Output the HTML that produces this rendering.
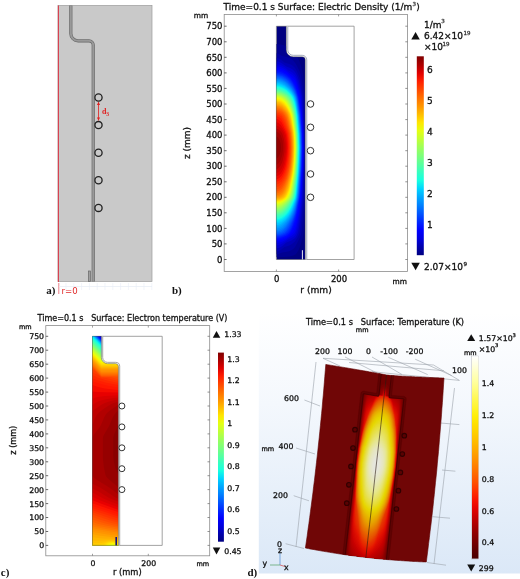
<!DOCTYPE html>
<html><head><meta charset="utf-8"><title>figure</title>
<style>html,body{margin:0;padding:0;background:#fff}svg{display:block}</style></head>
<body><svg width="520" height="579" viewBox="0 0 520 579">
<defs>
<linearGradient id="gjet" x1="0" y1="0" x2="0" y2="1"><stop offset="0%" stop-color="#800000"/><stop offset="4.2%" stop-color="#ad0000"/><stop offset="8.3%" stop-color="#df0000"/><stop offset="12.5%" stop-color="#ff1e00"/><stop offset="16.7%" stop-color="#ff4700"/><stop offset="20.8%" stop-color="#ff6f00"/><stop offset="25%" stop-color="#ff9400"/><stop offset="29.2%" stop-color="#ffbd00"/><stop offset="33.3%" stop-color="#ffe600"/><stop offset="37.5%" stop-color="#e4ff13"/><stop offset="41.7%" stop-color="#c1ff36"/><stop offset="45.8%" stop-color="#9dff5a"/><stop offset="50%" stop-color="#7dff7a"/><stop offset="54.2%" stop-color="#5aff9d"/><stop offset="58.3%" stop-color="#36ffc1"/><stop offset="62.5%" stop-color="#16ffe1"/><stop offset="66.7%" stop-color="#00d4ff"/><stop offset="70.8%" stop-color="#00a8ff"/><stop offset="75%" stop-color="#0080ff"/><stop offset="79.2%" stop-color="#0054ff"/><stop offset="83.3%" stop-color="#0028ff"/><stop offset="87.5%" stop-color="#0000ff"/><stop offset="91.7%" stop-color="#0000df"/><stop offset="95.8%" stop-color="#0000ad"/><stop offset="100%" stop-color="#000080"/></linearGradient>
<linearGradient id="ghot" x1="0" y1="0" x2="0" y2="1"><stop offset="0%" stop-color="#ffffff"/><stop offset="4.2%" stop-color="#ffffe0"/><stop offset="8.3%" stop-color="#ffffbe"/><stop offset="12.5%" stop-color="#ffff9f"/><stop offset="16.7%" stop-color="#fffc7a"/><stop offset="20.8%" stop-color="#fff853"/><stop offset="25%" stop-color="#fff430"/><stop offset="29.2%" stop-color="#ffef09"/><stop offset="33.3%" stop-color="#ffe000"/><stop offset="37.5%" stop-color="#ffd000"/><stop offset="41.7%" stop-color="#ffbe00"/><stop offset="45.8%" stop-color="#ffab00"/><stop offset="50%" stop-color="#ff9600"/><stop offset="54.2%" stop-color="#ff7f00"/><stop offset="58.3%" stop-color="#ff6800"/><stop offset="62.5%" stop-color="#ff4f00"/><stop offset="66.7%" stop-color="#ff3000"/><stop offset="70.8%" stop-color="#fa1400"/><stop offset="75%" stop-color="#e60400"/><stop offset="79.2%" stop-color="#c90000"/><stop offset="83.3%" stop-color="#ab0000"/><stop offset="87.5%" stop-color="#8f0000"/><stop offset="91.7%" stop-color="#770000"/><stop offset="95.8%" stop-color="#5f0000"/><stop offset="100%" stop-color="#4a0000"/></linearGradient>
<clipPath id="cb"><path d="M276.40,259.50L305.32,259.50L305.32,59.84A3.11,3.11 0 0 0 302.21,56.73L293.19,56.73A6.84,6.84 0 0 1 286.35,49.89L286.35,26.25L276.40,26.25Z"/></clipPath>
<clipPath id="cc"><path d="M92.50,545.40L118.43,545.40L118.43,366.41A2.79,2.79 0 0 0 115.64,363.62L107.56,363.62A6.13,6.13 0 0 1 101.42,357.49L101.42,336.30L92.50,336.30Z"/></clipPath>
<linearGradient id="gbg" x1="0" y1="0" x2="0" y2="1"><stop offset="0" stop-color="#ffffff"/><stop offset="0.35" stop-color="#f4f8fd"/><stop offset="1" stop-color="#dbe8f7"/></linearGradient>
<clipPath id="cd"><path d="M345.3,554.7L363.3,394.2L363.3,394L363.4,393.9L363.5,393.8L363.7,393.8L363.8,393.8L378.1,396.3L378.3,396.3L378.4,396.2L378.6,396.2L378.7,396.1L378.8,396L378.9,395.8L378.9,395.7L381.3,374L391.4,375.4L389,397.1L389,397.2L389,397.4L389.1,397.5L389.2,397.7L389.3,397.8L389.4,397.8L389.6,397.9L403.4,398.8L403.5,398.8L403.6,398.9L403.7,399L403.8,399.2L403.8,399.3L386.4,559.5Z"/></clipPath>
</defs>
<rect width="520" height="579" fill="#fff"/>
<rect x="58" y="5.5" width="94" height="276" fill="#c9c9c9" stroke="#9a9a9a" stroke-width="0.7"/>
<path d="M93.26,281.50L93.26,45.24A4.42,4.42 0 0 0 88.84,40.83L78.17,40.83A7.36,7.36 0 0 1 70.81,33.47L70.81,5.50" fill="none" stroke="#666" stroke-width="3.2" stroke-linejoin="round"/>
<path d="M93.26,281.50L93.26,45.24A4.42,4.42 0 0 0 88.84,40.83L78.17,40.83A7.36,7.36 0 0 1 70.81,33.47L70.81,5.50" fill="none" stroke="#999" stroke-width="2" stroke-linejoin="round"/>
<rect x="88.4" y="271" width="2" height="10.5" fill="#a0a0a0" stroke="#666" stroke-width="0.7"/>
<circle cx="98.5" cy="97.5" r="3.6" fill="#c9c9c9" stroke="#222" stroke-width="1.3"/>
<circle cx="98.5" cy="125.1" r="3.6" fill="#c9c9c9" stroke="#222" stroke-width="1.3"/>
<circle cx="98.5" cy="152.7" r="3.6" fill="#c9c9c9" stroke="#222" stroke-width="1.3"/>
<circle cx="98.5" cy="180.3" r="3.6" fill="#c9c9c9" stroke="#222" stroke-width="1.3"/>
<circle cx="98.5" cy="207.9" r="3.6" fill="#c9c9c9" stroke="#222" stroke-width="1.3"/>
<line x1="58.4" y1="5.5" x2="58.4" y2="282" stroke="#dc3545" stroke-width="1"/>
<line x1="58.8" y1="283" x2="58.8" y2="294" stroke="#e8707a" stroke-width="0.9"/>
<line x1="98.5" y1="102.1" x2="98.5" y2="120.5" stroke="#e02020" stroke-width="0.8"/>
<path d="M98.5,102.1 l-1.6,3 h3.2z M98.5,120.5 l-1.6,-3 h3.2z" fill="#e02020"/>
<text x="102" y="113.5" font-size="8" text-anchor="start" fill="#e02020" font-family='"Liberation Serif","DejaVu Serif",serif' font-weight="bold">d</text>
<text x="106.3" y="115.5" font-size="5.5" text-anchor="start" fill="#e02020" font-family='"Liberation Serif","DejaVu Serif",serif' font-weight="bold">3</text>
<line x1="66" y1="283" x2="66" y2="290" stroke="#e8edf6" stroke-width="0.6"/>
<line x1="73.8" y1="283" x2="73.8" y2="290" stroke="#e8edf6" stroke-width="0.6"/>
<line x1="81.6" y1="283" x2="81.6" y2="290" stroke="#e8edf6" stroke-width="0.6"/>
<line x1="89.4" y1="283" x2="89.4" y2="290" stroke="#e8edf6" stroke-width="0.6"/>
<line x1="97.2" y1="283" x2="97.2" y2="290" stroke="#e8edf6" stroke-width="0.6"/>
<line x1="105" y1="283" x2="105" y2="290" stroke="#e8edf6" stroke-width="0.6"/>
<line x1="112.8" y1="283" x2="112.8" y2="290" stroke="#e8edf6" stroke-width="0.6"/>
<line x1="120.6" y1="283" x2="120.6" y2="290" stroke="#e8edf6" stroke-width="0.6"/>
<line x1="128.4" y1="283" x2="128.4" y2="290" stroke="#e8edf6" stroke-width="0.6"/>
<line x1="136.2" y1="283" x2="136.2" y2="290" stroke="#e8edf6" stroke-width="0.6"/>
<line x1="144" y1="283" x2="144" y2="290" stroke="#e8edf6" stroke-width="0.6"/>
<line x1="151.8" y1="283" x2="151.8" y2="290" stroke="#e8edf6" stroke-width="0.6"/>
<line x1="59" y1="286.5" x2="152" y2="286.5" stroke="#e6ecf5" stroke-width="0.7"/>
<text x="46.3" y="293.5" font-size="11" text-anchor="start" fill="#111" font-family='"Liberation Serif","DejaVu Serif",serif' font-weight="bold">a)</text>
<text x="61.5" y="294" font-size="8.6" fill="#e02828" font-family='"DejaVu Sans","Liberation Sans",sans-serif'>r=0</text>
<rect x="224.2" y="14.4" width="183.3" height="257.1" fill="#fff" stroke="#8c8c8c" stroke-width="0.8"/>
<line x1="224.2" y1="259.5" x2="226.6" y2="259.5" stroke="#444" stroke-width="0.8"/>
<line x1="405.3" y1="259.5" x2="407.5" y2="259.5" stroke="#666" stroke-width="0.7"/>
<text x="222.5" y="262.6" font-size="8.5" text-anchor="end" fill="#111" stroke="#111" stroke-width="0.3" font-family='"DejaVu Sans","Liberation Sans",sans-serif' >0</text>
<line x1="224.2" y1="243.9" x2="226.6" y2="243.9" stroke="#444" stroke-width="0.8"/>
<line x1="405.3" y1="243.9" x2="407.5" y2="243.9" stroke="#666" stroke-width="0.7"/>
<text x="222.5" y="247.1" font-size="8.5" text-anchor="end" fill="#111" stroke="#111" stroke-width="0.3" font-family='"DejaVu Sans","Liberation Sans",sans-serif' >50</text>
<line x1="224.2" y1="228.4" x2="226.6" y2="228.4" stroke="#444" stroke-width="0.8"/>
<line x1="405.3" y1="228.4" x2="407.5" y2="228.4" stroke="#666" stroke-width="0.7"/>
<text x="222.5" y="231.5" font-size="8.5" text-anchor="end" fill="#111" stroke="#111" stroke-width="0.3" font-family='"DejaVu Sans","Liberation Sans",sans-serif' >100</text>
<line x1="224.2" y1="212.8" x2="226.6" y2="212.8" stroke="#444" stroke-width="0.8"/>
<line x1="405.3" y1="212.8" x2="407.5" y2="212.8" stroke="#666" stroke-width="0.7"/>
<text x="222.5" y="216" font-size="8.5" text-anchor="end" fill="#111" stroke="#111" stroke-width="0.3" font-family='"DejaVu Sans","Liberation Sans",sans-serif' >150</text>
<line x1="224.2" y1="197.3" x2="226.6" y2="197.3" stroke="#444" stroke-width="0.8"/>
<line x1="405.3" y1="197.3" x2="407.5" y2="197.3" stroke="#666" stroke-width="0.7"/>
<text x="222.5" y="200.4" font-size="8.5" text-anchor="end" fill="#111" stroke="#111" stroke-width="0.3" font-family='"DejaVu Sans","Liberation Sans",sans-serif' >200</text>
<line x1="224.2" y1="181.8" x2="226.6" y2="181.8" stroke="#444" stroke-width="0.8"/>
<line x1="405.3" y1="181.8" x2="407.5" y2="181.8" stroke="#666" stroke-width="0.7"/>
<text x="222.5" y="184.9" font-size="8.5" text-anchor="end" fill="#111" stroke="#111" stroke-width="0.3" font-family='"DejaVu Sans","Liberation Sans",sans-serif' >250</text>
<line x1="224.2" y1="166.2" x2="226.6" y2="166.2" stroke="#444" stroke-width="0.8"/>
<line x1="405.3" y1="166.2" x2="407.5" y2="166.2" stroke="#666" stroke-width="0.7"/>
<text x="222.5" y="169.3" font-size="8.5" text-anchor="end" fill="#111" stroke="#111" stroke-width="0.3" font-family='"DejaVu Sans","Liberation Sans",sans-serif' >300</text>
<line x1="224.2" y1="150.7" x2="226.6" y2="150.7" stroke="#444" stroke-width="0.8"/>
<line x1="405.3" y1="150.7" x2="407.5" y2="150.7" stroke="#666" stroke-width="0.7"/>
<text x="222.5" y="153.8" font-size="8.5" text-anchor="end" fill="#111" stroke="#111" stroke-width="0.3" font-family='"DejaVu Sans","Liberation Sans",sans-serif' >350</text>
<line x1="224.2" y1="135.1" x2="226.6" y2="135.1" stroke="#444" stroke-width="0.8"/>
<line x1="405.3" y1="135.1" x2="407.5" y2="135.1" stroke="#666" stroke-width="0.7"/>
<text x="222.5" y="138.2" font-size="8.5" text-anchor="end" fill="#111" stroke="#111" stroke-width="0.3" font-family='"DejaVu Sans","Liberation Sans",sans-serif' >400</text>
<line x1="224.2" y1="119.6" x2="226.6" y2="119.6" stroke="#444" stroke-width="0.8"/>
<line x1="405.3" y1="119.6" x2="407.5" y2="119.6" stroke="#666" stroke-width="0.7"/>
<text x="222.5" y="122.7" font-size="8.5" text-anchor="end" fill="#111" stroke="#111" stroke-width="0.3" font-family='"DejaVu Sans","Liberation Sans",sans-serif' >450</text>
<line x1="224.2" y1="104" x2="226.6" y2="104" stroke="#444" stroke-width="0.8"/>
<line x1="405.3" y1="104" x2="407.5" y2="104" stroke="#666" stroke-width="0.7"/>
<text x="222.5" y="107.1" font-size="8.5" text-anchor="end" fill="#111" stroke="#111" stroke-width="0.3" font-family='"DejaVu Sans","Liberation Sans",sans-serif' >500</text>
<line x1="224.2" y1="88.4" x2="226.6" y2="88.4" stroke="#444" stroke-width="0.8"/>
<line x1="405.3" y1="88.4" x2="407.5" y2="88.4" stroke="#666" stroke-width="0.7"/>
<text x="222.5" y="91.6" font-size="8.5" text-anchor="end" fill="#111" stroke="#111" stroke-width="0.3" font-family='"DejaVu Sans","Liberation Sans",sans-serif' >550</text>
<line x1="224.2" y1="72.9" x2="226.6" y2="72.9" stroke="#444" stroke-width="0.8"/>
<line x1="405.3" y1="72.9" x2="407.5" y2="72.9" stroke="#666" stroke-width="0.7"/>
<text x="222.5" y="76" font-size="8.5" text-anchor="end" fill="#111" stroke="#111" stroke-width="0.3" font-family='"DejaVu Sans","Liberation Sans",sans-serif' >600</text>
<line x1="224.2" y1="57.3" x2="226.6" y2="57.3" stroke="#444" stroke-width="0.8"/>
<line x1="405.3" y1="57.3" x2="407.5" y2="57.3" stroke="#666" stroke-width="0.7"/>
<text x="222.5" y="60.5" font-size="8.5" text-anchor="end" fill="#111" stroke="#111" stroke-width="0.3" font-family='"DejaVu Sans","Liberation Sans",sans-serif' >650</text>
<line x1="224.2" y1="41.8" x2="226.6" y2="41.8" stroke="#444" stroke-width="0.8"/>
<line x1="405.3" y1="41.8" x2="407.5" y2="41.8" stroke="#666" stroke-width="0.7"/>
<text x="222.5" y="44.9" font-size="8.5" text-anchor="end" fill="#111" stroke="#111" stroke-width="0.3" font-family='"DejaVu Sans","Liberation Sans",sans-serif' >700</text>
<line x1="224.2" y1="26.2" x2="226.6" y2="26.2" stroke="#444" stroke-width="0.8"/>
<line x1="405.3" y1="26.2" x2="407.5" y2="26.2" stroke="#666" stroke-width="0.7"/>
<text x="222.5" y="29.4" font-size="8.5" text-anchor="end" fill="#111" stroke="#111" stroke-width="0.3" font-family='"DejaVu Sans","Liberation Sans",sans-serif' >750</text>
<line x1="276.4" y1="14.4" x2="276.4" y2="16.4" stroke="#777" stroke-width="0.7"/>
<line x1="276.4" y1="269.5" x2="276.4" y2="271.5" stroke="#777" stroke-width="0.7"/>
<text x="276.8" y="282" font-size="8.5" text-anchor="middle" fill="#111" stroke="#111" stroke-width="0.3" font-family='"DejaVu Sans","Liberation Sans",sans-serif' >0</text>
<line x1="338.6" y1="14.4" x2="338.6" y2="16.4" stroke="#777" stroke-width="0.7"/>
<line x1="338.6" y1="269.5" x2="338.6" y2="271.5" stroke="#777" stroke-width="0.7"/>
<text x="339" y="282" font-size="8.5" text-anchor="middle" fill="#111" stroke="#111" stroke-width="0.3" font-family='"DejaVu Sans","Liberation Sans",sans-serif' >200</text>
<text x="223.6" y="9.8" font-size="9" text-anchor="start" fill="#111" stroke="#111" stroke-width="0.3" font-family='"DejaVu Sans","Liberation Sans",sans-serif' textLength="188.6" lengthAdjust="spacingAndGlyphs" style="white-space:pre">Time=0.1 s Surface: Electric Density (1/m</text>
<text x="412.6" y="6.3" font-size="5.5" text-anchor="start" fill="#333" stroke="#333" stroke-width="0.3" font-family='"DejaVu Sans","Liberation Sans",sans-serif' >3</text>
<text x="416.2" y="9.8" font-size="9" text-anchor="start" fill="#111" stroke="#111" stroke-width="0.3" font-family='"DejaVu Sans","Liberation Sans",sans-serif' >)</text>
<g clip-path="url(#cb)"><rect x="276.4" y="25.2" width="40" height="240" fill="#000080"/>
<path fill="#000092" d="M283.2,257L289.5,256.4L293.2,255.4L295.7,254.2L297.5,252L299,249.2L300.4,245.5L303,236.2L303.6,232.4L304.4,221.3L305.6,179L306.7,164.3L307.1,147.5L306.8,134.5L305.6,119.1L304.4,85.4L303.4,76.6L302.2,70.1L301.3,66.7L299.2,60.8L297.5,56.9L295.7,53.5L293.2,50.7L289.5,48L287,46.5L285.1,45.7L280.8,44.4L276.4,43.9L275.2,44L275.2,257.3Z"/>
<path fill="#0000a4" d="M276.4,254.3L278.9,253.9L282,252.6L285.8,252L288.8,251.3L291.3,250.2L293.2,248.9L295.1,246.9L295.9,245.5L299.7,238L301.1,234.3L301.9,229.6L303,218.4L304.3,198.9L304.9,147.5L304.5,113L304.1,98.1L303.5,91.6L302.2,82.2L301.6,78.5L300.7,74.8L299,70.1L297.5,66.9L295.1,62.7L293.2,60.6L291.3,59.1L289.5,58.1L286.4,57L282,56L278.3,53.7L276.4,53.3L275.2,53.5L275.2,254.2Z"/>
<path fill="#0000b6" d="M276.4,251.3L277.6,251.2L279.5,250.6L281.4,249.4L284.5,247.1L288.8,245.7L290.7,244.8L292.6,243.6L295.1,241.2L296.9,238.5L298.7,235.2L299.6,232.4L300.5,227.8L301.8,217.5L303.5,197.9L304.6,147.5L303.8,113L303.2,99L302.8,95.3L301.4,86L300.5,81.3L299.5,77.6L298.2,74L296.3,70L295.1,68L293.8,66.7L292,65.3L290.1,64.3L287.6,63.4L284.5,62.6L280.8,59.5L278.9,58.4L277.6,57.9L276.4,57.8L275.2,57.9L275.2,251.2Z"/>
<path fill="#0000cd" d="M276.4,248.2L278.3,248L280.8,247L282.6,245.8L286.4,242.6L291.3,240.6L293.8,239L295.1,237.9L296.3,236.2L297.5,233.7L298.2,231.5L299.2,226.8L301,215.6L302.7,197.9L303.3,176.5L303.9,162.5L304.2,147.5L303.9,133.5L303.3,122.3L302.9,108.4L302.3,98.1L300.8,88.8L298.5,79.4L297.5,76.6L295.7,73L294.4,71.3L292.6,69.5L290.1,68.1L286.4,66.6L282.6,63.8L280.1,62.3L278.3,61.6L276.4,61.4L275.2,61.5L275.2,248.1Z"/>
<path fill="#0000df" d="M276.4,245.4L278.9,245L281.4,244.1L283.9,242.6L288.2,239.4L291.3,238.1L293.2,237L294.4,235.9L295.7,234.3L297,230.6L298.1,225.9L300.2,213.8L302,197.9L302.6,181.1L303.5,163.4L303.8,147.5L303.6,133.5L301.6,99L301.2,95.3L300.2,90.6L297.5,80.7L295.7,76.2L294.4,74.5L292.6,72.7L290.7,71.5L288.2,70.2L285.1,67.5L282.6,65.9L279.5,64.6L276.4,64.2L275.2,64.3L275.2,245.3Z"/>
<path fill="#0000f1" d="M276.4,243L279.5,242.5L282.6,241.4L285.7,239.7L289.5,237L292,235.6L293.2,234.6L294.4,233.2L295.4,231.5L296,229.6L297.3,224L299.3,213.8L300.3,207.3L301.4,197.9L301.9,185.5L303,166.2L303.4,147.5L303.1,132.6L301,100L300.5,96.2L299.7,92.5L296.8,82.2L295.7,79.2L295.1,78L293.8,76.4L292,74.8L289.5,73.3L285.7,69.7L283.2,68.2L280.8,67.1L278.3,66.4L276.4,66.3L275.2,66.4L275.2,242.9Z"/>
<path fill="#0000ff" d="M276.4,241.1L279.5,240.7L282,240L285.7,238.3L288.2,236.7L293.2,231.9L294.5,229.6L295.7,226.2L298.6,212.9L300.8,197.9L302.5,169L303.1,147.5L302.7,132.6L301.9,117.7L300.5,100.9L299.6,95.3L298.1,89.7L296.4,84.1L295.1,80.8L293.8,78.9L287,72.5L284.5,70.7L282,69.4L278.9,68.4L276.4,68.1L275.2,68.2L275.2,241Z"/>
<path fill="#0008ff" d="M276.4,239.7L279.5,239.4L282.6,238.5L286.4,236.7L288.8,235L291,232.4L293.1,228.7L294.4,225.8L295.7,222L298,211.9L300.4,196.1L302.2,169L302.7,147.5L302.4,133.5L301.2,114L299.3,97.2L297.9,91.6L295.7,85L294.3,82.2L290.8,77.6L288.8,75.5L285.7,73.2L282,71.1L278.9,70L276.4,69.8L275.2,69.8L275.2,239.6Z"/>
<path fill="#0018ff" d="M276.4,238.5L279.5,238.2L283.2,237L286.4,235.4L289,233.4L290.1,232.1L291.5,229.6L293.4,225L295.7,218.5L297.8,209.1L299.7,197.9L300.3,193.3L301.8,169L302.4,147.5L302.1,133.5L300.7,112.1L298.6,97.2L296.5,89.7L295.1,86.1L292.9,82.2L290.7,78.8L288.8,76.9L285.7,74.6L282,72.6L278.9,71.6L276.4,71.3L275.2,71.4L275.2,238.4Z"/>
<path fill="#0028ff" d="M276.4,237.4L279.5,237.1L282.6,236.1L286,234.3L288.3,232.4L289.8,230.6L291.3,227.8L292.6,224.8L295.4,216.6L296.6,211.9L299.1,198.9L299.9,193.3L301.5,168.1L302.1,147.5L301.8,133.5L300.4,113L298.5,99L297.9,96.2L296.1,90.6L294.5,86.9L292.6,83.1L290.7,80.3L288.8,78.3L285.7,76L282.6,74.2L279.5,73.2L276.4,72.8L275.2,72.8L275.2,237.3Z"/>
<path fill="#0038ff" d="M276.4,236.3L279.5,236L282.6,235L285.4,233.4L287.6,231.4L289.5,229L291.3,225.5L293.8,219.4L295.3,214.7L298.8,198.9L299.5,193.3L301.2,168.1L301.8,147.5L301.5,133.5L300,113L298.2,100L297.4,96.2L295.9,91.6L294.4,88L292.6,84.5L290.7,81.8L288.2,79.1L285.1,76.8L282,75.2L278.9,74.3L276.4,74L275.2,74.1L275.2,236.3Z"/>
<path fill="#004cff" d="M276.4,235.3L279.5,234.9L282,234.1L284.8,232.4L287,230.3L288.9,227.8L291.3,223.3L293.2,219.1L295.1,213.9L298.4,198.9L299.1,193.3L301,167.1L301.5,147.5L301.2,133.5L299.9,114.9L298,100.9L297.3,97.2L296.3,94L295.1,90.6L292.6,85.9L290.7,83.3L288.2,80.5L285.7,78.4L282.6,76.6L279.5,75.6L276.4,75.2L275.2,75.2L275.2,235.2Z"/>
<path fill="#005cff" d="M276.4,234.2L279.5,233.8L282,232.8L284,231.5L286.4,229.2L288.8,225.7L292,220L293.8,215.7L295.1,212L298.2,197.9L298.9,192.3L300.7,167.1L301.2,147.5L300.9,133.5L299.5,114.9L297.7,100.9L296.9,97.2L296,94.4L294.4,90.6L292.6,87.3L290.1,83.9L287.6,81.2L285.1,79.2L282,77.5L278.9,76.5L276.4,76.3L275.2,76.4L275.2,234.1Z"/>
<path fill="#006cff" d="M276.4,233L279.5,232.5L281.8,231.5L283.9,230.1L286.1,227.8L288.8,223.8L292,218.2L293.8,213.9L295.1,210.1L297.8,197.9L298.5,192.3L300.4,167.1L301,147.5L300.6,133.5L299.2,114.9L297.4,101.8L296.5,97.2L295.7,94.7L293.8,90.7L292,87.7L289.5,84.5L287,81.9L284.5,80L282,78.6L278.9,77.6L276.4,77.4L275.2,77.4L275.2,232.9Z"/>
<path fill="#0080ff" d="M276.4,231.6L278.9,231.2L281.4,230.2L283.5,228.7L285.7,226.4L288.8,222L291.4,217.5L293.5,212.9L295.1,208.2L297.5,197.9L298.3,191.4L300.1,167.1L300.5,155.9L300.7,147.5L300.3,133.5L299,115.8L297.2,102.8L296.5,99L295.7,95.9L293.8,91.9L292,88.8L289.5,85.7L287,83.1L284.5,81.2L282,79.7L278.9,78.7L276.4,78.5L275.2,78.5L275.2,231.5Z"/>
<path fill="#0090ff" d="M276.4,230.1L278.9,229.7L281.4,228.6L283.2,227.2L285.7,224.6L288.8,220.3L291.3,216.1L293.2,212L294.8,207.3L297.1,197.9L297.9,191.4L299.8,167.1L300.3,155L300.4,147.5L300,133.5L298.7,115.8L296.8,102.8L296.1,99L295.3,96.2L293.8,93L292,90L289.5,86.8L287,84.3L284.5,82.3L282,80.9L278.9,79.8L276.4,79.6L275.2,79.6L275.2,230Z"/>
<path fill="#00a0ff" d="M276.4,228.5L278.9,228.1L281.4,226.9L283.9,224.8L287,221.3L289.5,217.9L291.7,213.8L293.2,210.4L294.8,205.4L296.8,197.9L297.7,190.5L299.5,167.1L300,155.9L300.1,147.5L299.8,133.5L298.4,115.8L296.5,102.8L295.8,99L295.1,96.7L293.8,94.1L291.3,90.1L288.8,87.2L286.4,84.9L283.9,83L281.4,81.7L278.9,81L276.4,80.7L275.2,80.7L275.2,228.4Z"/>
<path fill="#00b0ff" d="M276.4,226.8L278.9,226.4L280.8,225.5L282,224.7L285.1,221.9L288.2,218.3L290.5,214.7L292.3,211L293.8,207L295.7,200.9L296.6,197L297.1,193.3L298.6,176.5L299.5,162.5L299.8,147.5L299.5,134.5L298.1,115.8L296.2,102.8L295.6,100L294.8,97.2L293.4,94.4L291.3,91.1L288.8,88.2L286.4,85.9L283.9,84.2L281.4,82.8L278.9,82.1L276.4,81.8L275.2,81.8L275.2,226.7Z"/>
<path fill="#00c4ff" d="M276.4,225.2L278.9,224.7L280.8,223.9L282,223.1L285.1,220.4L288.2,216.9L290.1,214L292,210.3L293.5,206.3L295.7,199.8L296.3,197L296.8,193.3L298.5,174.6L299.2,161.5L299.6,147.5L299.2,133.5L297.8,115.8L296,103.7L294.6,98.1L293.4,95.3L291.3,92.1L289.5,89.8L287,87.5L283.9,85.2L281.4,83.9L278.9,83.1L276.4,82.8L275.2,82.9L275.2,225Z"/>
<path fill="#00d4ff" d="M276.4,223.6L278.9,223.1L282,221.6L285.1,219L287.6,216.3L289.5,213.7L291.3,210.3L293,206.3L295.3,199.8L296,197L296.5,193.3L298.1,175.5L298.9,162.5L299.3,147.5L299,134.5L297.5,115.8L295.7,103.8L295.1,100.9L294.2,98.1L293.2,95.9L291.3,93L289.5,90.8L287,88.4L283.9,86.2L281.4,85L278.9,84.2L276.4,83.9L275.2,84L275.2,223.4Z"/>
<path fill="#00e4f8" d="M276.4,222.1L278.9,221.7L282,220.2L285.1,217.7L287.6,215L289.5,212.3L291.3,208.8L295.2,198.9L295.8,196.1L296.4,191.4L298,173.7L298.7,161.5L299.1,147.5L298.7,133.5L297.2,115.8L295.5,104.6L294.6,100.9L293.8,98.3L292.9,96.2L291.3,93.9L288.8,91L286.4,88.9L283.9,87.2L281.4,85.9L278.9,85.2L276.4,84.9L275.2,85L275.2,222Z"/>
<path fill="#0cf4eb" d="M276.4,220.7L278.9,220.3L282,218.9L284.5,217L287,214.4L288.8,212L290.7,208.7L292.6,204.6L295.1,198.1L295.7,195.1L296.1,191.4L297.8,172.7L298.4,161.5L298.8,147.5L298.4,133.5L297,115.8L295.3,105.6L294.5,101.8L293.6,99L292.6,96.7L291.3,94.8L288.8,91.9L286.4,89.8L283.9,88.1L281.4,86.9L278.9,86.1L276.4,85.8L275.2,85.9L275.2,220.6Z"/>
<path fill="#1cffdb" d="M276.4,219.4L278.9,219.1L281.4,218L284.5,215.7L287,213.2L288.8,210.7L290.7,207.4L293.8,200.4L294.7,197.9L295.2,196.1L295.8,191.4L297.5,172.7L298.2,160.6L298.6,147.5L298.2,134.5L296.7,115.8L296.1,111.2L295.1,105.8L294.1,101.8L293.2,99.2L292.3,97.2L290.7,94.8L288.8,92.8L286.4,90.6L283.9,89L281.4,87.8L278.9,87L276.4,86.8L275.2,86.8L275.2,219.3Z"/>
<path fill="#29ffce" d="M276.4,218.2L278.9,217.9L281.4,216.8L283.9,215.1L286.4,212.7L288.2,210.3L290.1,207.2L293.2,200.8L294.4,197.9L295.1,194.8L295.7,190.5L297.2,173.7L297.9,161.5L298.3,147.5L297.9,133.5L296.4,115.8L295.1,107.5L293.2,100.5L292,97.6L290.7,95.7L288.8,93.6L286.4,91.5L283.9,89.8L281.4,88.6L278.9,87.9L276.4,87.6L275.2,87.7L275.2,218.1Z"/>
<path fill="#36ffc1" d="M276.4,217.1L278.9,216.7L281.4,215.6L283.2,214.4L285.7,212.1L287.6,209.9L289.5,207L292.6,201.1L294,197.9L294.6,195.1L295.3,190.5L296.9,174.6L297.7,161.5L298.1,147.5L297.7,133.5L296.1,115.8L295.1,109.1L293.8,103.9L292.9,100.9L291.7,98.1L290.5,96.2L288.8,94.4L286.4,92.3L283.9,90.6L281.4,89.4L278.9,88.7L276.4,88.4L275.2,88.5L275.2,217Z"/>
<path fill="#43ffb4" d="M276.4,215.9L278.9,215.6L281.4,214.5L283.2,213.2L285.7,210.9L287.6,208.6L289.5,205.8L292.6,200.1L293.8,197.1L295.1,190.2L296.7,173.7L297.5,161.5L297.9,147.5L297.4,133.5L295.9,115.8L294.7,109.3L292.6,101.4L291.3,98.6L290.1,96.6L288.8,95.2L286.4,93.1L283.9,91.4L281.4,90.2L278.9,89.5L276.4,89.2L275.2,89.3L275.2,215.8Z"/>
<path fill="#53ffa4" d="M276.4,214.8L278.3,214.6L280.8,213.7L282.6,212.6L285.1,210.4L287.6,207.4L289.5,204.6L292.3,199.8L293.4,197L294.2,193.3L294.9,188.6L296.4,173.7L297.2,161.5L297.6,147.5L297.3,134.5L295.7,116.5L294.4,109.5L292.2,101.8L291,99L289.9,97.2L288.2,95.4L286.4,93.8L283.9,92.2L281.4,91L278.9,90.2L276.4,90L275.2,90.1L275.2,214.7Z"/>
<path fill="#60ff97" d="M276.4,213.8L278.3,213.5L280.8,212.6L282.6,211.5L285.1,209.2L287,207L289.5,203.5L292,199.4L293,197L293.8,193.4L294.5,189.5L296.1,174.6L297,161.5L297.4,147.5L297,134.5L295.4,116.8L294.2,110.2L292,102.4L290.7,99.6L289.5,97.6L288.2,96.1L286.4,94.5L283.9,92.9L281.4,91.7L278.9,91L276.4,90.7L275.2,90.8L275.2,213.6Z"/>
<path fill="#6dff8a" d="M276.4,212.7L278.3,212.4L280.8,211.5L282.6,210.4L284.5,208.7L287,205.9L290.1,201.6L291.7,198.9L292.6,197L293.3,194.2L294.1,189.5L295.8,175.5L296.7,162.5L297.2,147.5L296.7,133.5L295.3,117.7L294.1,111.2L291.9,103.7L290.8,100.9L289.5,98.5L288.2,96.9L286.4,95.3L283.9,93.6L281.4,92.5L278.9,91.7L276.4,91.5L275.2,91.5L275.2,212.6Z"/>
<path fill="#7dff7a" d="M276.4,211.6L278.3,211.4L280.1,210.7L282,209.7L283.9,208.2L286.4,205.6L289.5,201.6L291.2,198.9L292.1,197L293.1,193.3L293.7,189.5L295.7,173.9L296.5,161.5L296.9,147.5L296.5,133.5L295.1,118.4L293.8,111.4L291.4,103.7L290.2,100.9L289.1,99L287.7,97.2L286.4,96L283.9,94.3L281.4,93.1L278.9,92.5L276.4,92.2L275.2,92.3L275.2,211.5Z"/>
<path fill="#8aff6d" d="M276.4,210.5L278.3,210.3L280.1,209.6L282,208.6L283.9,207.1L286.4,204.5L289.5,200.7L291.2,197.9L291.9,196.1L292.9,192.3L293.5,188.6L295.4,173.7L296.3,162.5L296.7,147.5L296.3,133.5L294.8,118.6L293.6,112.1L291.3,104.7L290.1,101.8L288.8,99.6L287.6,98L285.7,96.2L283.9,95L281.4,93.8L278.9,93.1L276.4,92.9L275.2,92.9L275.2,210.4Z"/>
<path fill="#97ff60" d="M276.4,209.5L278.3,209.3L280.1,208.6L282,207.5L283.9,206L285.7,204.2L289.5,199.9L290.7,197.9L291.5,196.1L292.5,192.3L293.1,188.6L295.1,174.6L296,162.5L296.5,147.5L296.1,133.5L294.6,119.6L293.5,113L291.3,106L290.1,103L288.8,100.7L287.6,98.9L286,97.2L283.9,95.7L281.4,94.5L278.9,93.8L276.4,93.5L275.2,93.6L275.2,209.4Z"/>
<path fill="#a4ff53" d="M276.4,208.5L278.3,208.2L280.1,207.6L281.4,206.9L283.2,205.5L285.7,203.2L288.8,199.9L290.2,197.9L291,196.1L292,192.7L292.8,188.6L295,172.7L295.9,161.5L296.3,147.5L295.8,133.5L294.4,120.5L293.2,113.2L291.3,107.3L290.1,104.2L288.8,101.7L287.6,99.9L285.7,97.8L283.6,96.2L281.4,95.1L278.9,94.4L276.4,94.1L275.2,94.2L275.2,208.4Z"/>
<path fill="#b4ff43" d="M276.4,207.5L278.3,207.2L280.1,206.6L282,205.5L283.9,204L287,201.2L288.8,199.1L290.1,197.1L290.7,195.5L291.8,191.4L292.6,187.7L294.7,172.7L295.6,161.5L296.1,147.5L295.7,134.5L294.2,121.4L293.2,114.8L292.5,112.1L291.3,108.5L289.7,104.6L288.2,101.8L286.9,100L285.1,98.1L283.2,96.7L281.4,95.8L278.9,95L276.4,94.8L275.2,94.8L275.2,207.3Z"/>
<path fill="#c1ff36" d="M276.4,206.5L278.3,206.2L280.1,205.6L282,204.5L283.9,203.1L286.4,201L288.4,198.9L289.6,197L290.3,195.1L292,188.6L294.4,172.7L295.4,161.5L295.9,147.5L295.7,138.8L295.1,130.7L293.2,116.6L292.4,113L291.3,109.7L289.5,105.3L288.2,102.9L286.9,100.9L285.2,99L283.2,97.4L281.4,96.4L278.9,95.7L276.4,95.4L275.2,95.5L275.2,206.4Z"/>
<path fill="#ceff29" d="M276.4,205.5L278.3,205.3L280.8,204.3L282.6,203.2L285.1,201.4L287,199.7L288.5,197.9L289.5,196.1L290.1,194.4L291.2,190.5L291.9,186.7L294.1,172.7L295.1,162.5L295.6,147.5L295.5,139.1L294.9,131.7L292.9,116.8L292,113L291.1,110.2L289.5,106.5L288.2,104L286.8,101.8L285.1,99.8L283.2,98.2L281.4,97.1L278.9,96.3L276.4,96L275.2,96.1L275.2,205.4Z"/>
<path fill="#dbff1c" d="M276.4,204.5L278.3,204.3L280.8,203.4L283.2,202L285.7,200.1L287,198.9L288.4,197L289.9,193.3L291.7,185.8L293.2,177.4L294,171.8L295,160.6L295.4,147.5L295.2,139.1L294.7,131.7L292.7,117.7L292,114.2L291,111.2L289.5,107.6L287.6,104.1L286,101.8L284.5,100.1L282.6,98.6L280.8,97.6L278.9,97L276.4,96.7L275.2,96.8L275.2,204.4Z"/>
<path fill="#ebff0c" d="M276.4,203.6L278.3,203.4L280.8,202.6L282.6,201.6L285.1,199.9L286.4,198.8L287.8,197L289.5,193.2L290.5,189.5L292.7,178.3L293.7,171.8L294.6,161.5L295.1,153.6L295.2,147.5L295,140.1L294.4,132L292.3,117.7L291.7,114.9L290.7,111.6L289.5,108.7L287.6,105.2L286,102.8L284.5,101L282.6,99.4L280.8,98.4L278.9,97.8L276.4,97.5L275.2,97.6L275.2,203.5Z"/>
<path fill="#f8f500" d="M276.4,202.7L278.3,202.5L280.8,201.8L282.9,200.7L285.1,199.2L287.2,197L288.2,195L289.2,192.3L290.1,189.3L291.3,183.6L293.2,172.7L294.3,161.5L294.9,147.5L294.7,139.1L294.1,131.7L292,117.7L291.3,114.9L290.4,112.1L289.5,109.8L287.6,106.3L285.9,103.7L284.3,101.8L282.6,100.4L280.8,99.3L278.3,98.5L276.4,98.3L275.2,98.4L275.2,202.6Z"/>
<path fill="#ffe600" d="M276.4,201.8L278.3,201.7L280.8,201L282.6,200.2L284.6,198.9L285.7,197.9L287,196.2L288.8,191.9L290.1,187.4L291.3,181.7L292.6,175.1L293.2,170.6L294.1,160.6L294.6,147.5L294.4,140.1L293.8,131.8L291.8,118.6L290.9,114.9L290.1,112.4L288.8,109.6L287,106.3L285.7,104.5L283.9,102.4L282,100.9L280.8,100.3L278.3,99.4L276.4,99.2L275.2,99.3L275.2,201.8Z"/>
<path fill="#ffd700" d="M276.4,201L278.3,200.9L280.8,200.2L282.6,199.4L284.7,197.9L285.7,196.9L286.8,195.1L288.8,190.5L291.3,179.8L292.6,172.7L293.7,161.5L294.1,154.1L294.3,147.5L294.1,140.1L293.6,132.6L291.4,118.6L290.1,113.6L288.8,110.7L287.6,108.4L285.7,105.7L283.9,103.6L282,102L280.8,101.3L278.3,100.4L276.4,100.2L275.2,100.3L275.2,201Z"/>
<path fill="#ffc400" d="M276.4,200.3L278.3,200.1L280.8,199.4L282.1,198.9L283.9,197.7L285.1,196.4L286.4,194.5L288.2,190.2L289.5,185.9L290.7,180.6L291.9,174.6L292.6,169.9L293.2,164.1L293.7,156.9L294,147.5L293.8,140.1L293.2,132.2L291.1,119.6L290.3,115.8L289.5,113.3L288.2,110.7L287,108.6L285.1,106.1L283.2,104.2L281.4,102.8L280.1,102.1L278.3,101.5L276.4,101.2L275.2,101.3L275.2,200.2Z"/>
<path fill="#ffb600" d="M276.4,199.5L278.3,199.3L280.1,198.8L282,198L283.5,197L285,195.1L286.2,193.3L288.1,188.6L290.7,178.5L292,170.9L293.1,160.6L293.5,153.1L293.6,147.5L293.5,140.1L292.9,132.6L290.7,119.7L290,116.8L289.1,114L288.2,111.9L287,109.8L285.1,107.3L283.2,105.4L281.4,103.9L280.1,103.2L278.3,102.6L276.4,102.3L275.2,102.4L275.2,199.4Z"/>
<path fill="#ffa700" d="M276.4,198.6L278.3,198.4L280.2,197.9L282,197L283.1,196.1L284.5,194.4L285.7,192.3L287.6,187.9L290.1,179L291.2,173.7L291.9,169L293,156.9L293.3,147.5L293.1,140.1L292.5,132.6L290.2,119.6L288.8,114.7L287.6,112.1L286.4,110.2L285.1,108.5L283.2,106.6L282,105.5L280.1,104.4L278.3,103.7L276.4,103.5L275.2,103.6L275.2,198.6Z"/>
<path fill="#ff9800" d="M276.4,197.7L278.3,197.5L279.9,197L281.4,196.2L282.6,195.1L283.9,193.6L285.3,191.4L286.4,189.1L287.6,185.6L290.1,176.7L291.5,169L292.6,157.5L292.9,147.5L292.7,140.1L292.1,132.6L289.8,120.5L288.2,114.9L287,112.3L285.7,110.5L282.6,107.2L281.4,106.3L279.5,105.4L277.6,104.8L276.4,104.7L275.2,104.8L275.2,197.6Z"/>
<path fill="#ff8600" d="M276.4,196.6L278.3,196.3L279.5,195.8L281.4,194.7L282.8,193.3L283.9,191.8L285.2,189.5L287.6,183.3L289.8,175.5L291.3,167.1L292.3,155.9L292.6,147.5L292.4,140.1L291.7,132.6L289.5,121.3L287.9,115.8L287,113.8L285.7,111.8L284.4,110.2L282.6,108.5L281.4,107.6L279.5,106.6L277.6,106.1L276.4,105.9L275.2,106.1L275.2,196.5Z"/>
<path fill="#ff7700" d="M276.4,195.2L278.3,194.8L279.7,194.2L281.4,193L282.6,191.7L283.9,189.8L285.1,187.5L287.6,181.1L289.5,174.5L290.8,167.1L291.9,155.9L292.2,147.5L292,140.2L291.3,133.2L288.8,121.3L287.5,116.8L286.7,114.9L285.6,113L284.1,111.2L282.6,109.7L281.4,108.8L279.5,107.9L277.6,107.3L276.4,107.2L275.2,107.3L275.2,195Z"/>
<path fill="#ff6800" d="M276.4,193.5L278.3,193.1L279.8,192.3L281.4,191.1L282.6,189.6L283.9,187.6L285.1,185.1L287.6,178.8L289.2,172.7L290.5,165.3L291.4,155.9L291.7,147.5L291.5,140.1L290.7,132.6L288.2,121.5L287,117.5L285.2,114L283.9,112.2L282.6,111L281.4,110.1L279.5,109.1L277.6,108.6L276.4,108.5L275.2,108.6L275.2,193.3Z"/>
<path fill="#ff5500" d="M276.4,191.6L277.7,191.4L279.5,190.5L280.8,189.6L282,188.2L284.5,183.9L287,178.2L288.8,171.6L290.1,164.4L291,155L291.2,147.5L291,140.1L290.2,132.6L287.6,122.1L286.4,118.2L284.7,114.9L283.2,113L282.2,112.1L280.9,111.2L279.5,110.5L277.6,109.9L276.4,109.8L275.2,109.9L275.2,191.4Z"/>
<path fill="#ff4700" d="M276.4,189.5L277.6,189.2L279,188.6L280.8,187.2L282,185.7L285.1,180.3L287,175.6L288.3,170.9L289.5,164.3L290.4,155L290.7,147.5L290.5,141L289.8,133.5L288.8,129.4L285.7,119.2L284,115.8L282,113.4L279.5,111.9L277.6,111.3L276.4,111.1L275.2,111.3L275.2,189.2Z"/>
<path fill="#ff3800" d="M276.4,187.1L277.6,186.8L278.9,186.2L281.4,184L283.9,180.2L285.1,177.8L286.4,174.6L287.9,169L289,163.4L289.9,154.1L290.2,147.5L290,141L289.1,133.5L288.2,129.8L285.1,120.5L283.2,116.8L281.7,114.9L280.5,114L278.9,113.1L276.4,112.6L275.2,112.7L275.2,186.8Z"/>
<path fill="#ff2900" d="M276.4,184.5L277.6,184.2L278.9,183.6L281.4,181.5L282.6,179.8L283.9,177.7L285.7,173.4L287.3,168.1L288.4,162.5L289.3,154.1L289.6,147.5L289.3,141L288.4,133.5L287.6,130.5L284.6,122.3L283.2,119.3L281.4,116.6L280.4,115.8L278.9,114.9L277.6,114.4L276.4,114.2L275.2,114.4L275.2,184.2Z"/>
<path fill="#ff1600" d="M276.4,181.8L277.6,181.6L278.9,181L281.4,178.9L283.2,176L285.1,171.8L286.4,167.9L287.6,161.9L288.6,154.1L288.9,147.5L288.7,142.9L288.2,137.3L287.6,133.5L286.4,129.7L283.2,122.4L281.6,119.6L280.8,118.6L278.9,117.1L277.6,116.5L276.4,116.3L275.2,116.5L275.2,181.6Z"/>
<path fill="#f10800" d="M276.4,179.2L277.6,178.9L278.9,178.2L280.1,177.3L281.4,176L282.8,173.7L284.5,169.8L285.7,165.9L286.8,160.6L287.7,154.1L288,147.5L287.9,142.9L287.4,138.2L286.8,134.5L285.7,131L282.6,124.5L281.3,122.3L280.1,121L278.9,119.9L277.6,119.2L276.4,118.9L275.2,119.2L275.2,178.9Z"/>
<path fill="#df0000" d="M276.4,176.3L278.3,175.6L279.5,174.8L280.8,173.5L282,171.7L283.9,167.5L285.1,163.4L286.3,156.9L286.9,152.2L287.1,147.5L286.9,142.9L286.4,138.2L285.7,134.5L284.7,131.7L283.2,128.8L280.8,125.1L278.3,122.8L276.4,122.2L275.2,122.5L275.2,176Z"/>
<path fill="#cd0000" d="M276.4,173L277.4,172.7L278.3,172.3L279.8,170.9L281.4,168.9L282.7,166.2L283.9,162.5L285.1,156.7L285.8,152.2L286,147.5L285.9,143.8L285.4,140.1L284.5,135.2L283.6,132.6L282,129.8L280.8,128.3L278.3,126.3L276.4,125.7L275.2,126L275.2,172.6Z"/>
<path fill="#b60000" d="M276.4,169.1L277.6,168.7L279.5,167.1L280.8,165.3L282,162.8L282.7,160.6L283.9,155L284.5,151.3L284.6,147.5L284.5,143.8L284,140.1L282.9,135.4L282.2,133.5L281,131.7L279.5,130.2L277.6,129.1L276.4,128.8L275.2,129.1L275.2,168.7Z"/>
<path fill="#a40000" d="M276.4,164.7L277.6,164.2L278.9,162.9L279.8,161.5L280.8,159.5L282,155.9L282.6,153.1L283,150.3L283.1,147.5L282.9,143.8L282.5,141L281.8,138.2L280.8,135.5L280.1,134.4L278.9,133L277.6,132.1L276.4,131.8L275.2,132.1L275.2,164.2Z"/>
<path fill="#920000" d="M276.4,158.5L277,158.3L278.3,157.1L279.5,154.9L280.7,151.3L281,147.5L280.7,143.8L279.6,140.1L278.3,137.8L277.6,137.1L276.4,136.4L275.2,137.1L275.2,157.8Z"/>
</g>
<path d="M286.4,26.2 H354.1 V259.5 H305.3" fill="none" stroke="#8c8c8c" stroke-width="0.8"/>
<path d="M306.01,259.50L306.01,59.84A3.79,3.79 0 0 0 302.21,56.04L293.19,56.04A6.16,6.16 0 0 1 287.04,49.89L287.04,26.25" fill="none" stroke="#fbfbfb" stroke-width="1.3"/>
<path d="M306.75,259.50L306.75,59.84A4.54,4.54 0 0 0 302.21,55.30L293.19,55.30A5.41,5.41 0 0 1 287.78,49.89L287.78,26.25" fill="none" stroke="#7f8aa0" stroke-width="0.7"/>
<path d="M276.40,259.50L305.32,259.50L305.32,59.84A3.11,3.11 0 0 0 302.21,56.73L293.19,56.73A6.84,6.84 0 0 1 286.35,49.89L286.35,26.25L276.40,26.25Z" fill="none" stroke="#555" stroke-width="0.6" stroke-opacity="0.85"/>
<circle cx="310.5" cy="104" r="3.3" fill="#fff" stroke="#333" stroke-width="1"/>
<circle cx="310.5" cy="127.3" r="3.3" fill="#fff" stroke="#333" stroke-width="1"/>
<circle cx="310.5" cy="150.7" r="3.3" fill="#fff" stroke="#333" stroke-width="1"/>
<circle cx="310.5" cy="174" r="3.3" fill="#fff" stroke="#333" stroke-width="1"/>
<circle cx="310.5" cy="197.3" r="3.3" fill="#fff" stroke="#333" stroke-width="1"/>
<rect x="301.9" y="250.2" width="1" height="9.3" fill="#e8e8f0"/>
<text x="316" y="292.6" font-size="9.1" text-anchor="middle" fill="#111" stroke="#111" stroke-width="0.3" font-family='"DejaVu Sans","Liberation Sans",sans-serif' >r (mm)</text>
<text transform="translate(190,143) rotate(-90)" font-size="9" text-anchor="middle" fill="#111" stroke="#111" stroke-width="0.3" font-family='"DejaVu Sans","Liberation Sans",sans-serif'>z (mm)</text>
<text x="193.7" y="18.2" font-size="7.4" text-anchor="start" fill="#111" stroke="#111" stroke-width="0.3" font-family='"DejaVu Sans","Liberation Sans",sans-serif' >mm</text>
<text x="392.5" y="283.8" font-size="7.4" text-anchor="start" fill="#111" stroke="#111" stroke-width="0.3" font-family='"DejaVu Sans","Liberation Sans",sans-serif' >mm</text>
<rect x="416.8" y="56.3" width="7" height="198.9" fill="url(#gjet)"/>
<text x="427.1" y="227.5" font-size="9" text-anchor="start" fill="#111" stroke="#111" stroke-width="0.3" font-family='"DejaVu Sans","Liberation Sans",sans-serif' >1</text>
<text x="427.1" y="196.5" font-size="9" text-anchor="start" fill="#111" stroke="#111" stroke-width="0.3" font-family='"DejaVu Sans","Liberation Sans",sans-serif' >2</text>
<text x="427.1" y="165.5" font-size="9" text-anchor="start" fill="#111" stroke="#111" stroke-width="0.3" font-family='"DejaVu Sans","Liberation Sans",sans-serif' >3</text>
<text x="427.1" y="134.5" font-size="9" text-anchor="start" fill="#111" stroke="#111" stroke-width="0.3" font-family='"DejaVu Sans","Liberation Sans",sans-serif' >4</text>
<text x="427.1" y="103.5" font-size="9" text-anchor="start" fill="#111" stroke="#111" stroke-width="0.3" font-family='"DejaVu Sans","Liberation Sans",sans-serif' >5</text>
<text x="427.1" y="72.5" font-size="9" text-anchor="start" fill="#111" stroke="#111" stroke-width="0.3" font-family='"DejaVu Sans","Liberation Sans",sans-serif' >6</text>
<text x="424" y="27.5" font-size="9" text-anchor="start" fill="#111" stroke="#111" stroke-width="0.3" font-family='"DejaVu Sans","Liberation Sans",sans-serif' >1/m</text>
<text x="441.3" y="23.3" font-size="5.5" text-anchor="start" fill="#333" stroke="#333" stroke-width="0.3" font-family='"DejaVu Sans","Liberation Sans",sans-serif' >3</text>
<path d="M415.6,31.9 l4.2,7.5 h-8.5z" fill="#111"/>
<text x="424" y="39" font-size="9" text-anchor="start" fill="#111" stroke="#111" stroke-width="0.3" font-family='"DejaVu Sans","Liberation Sans",sans-serif' >6.42×10</text>
<text x="463.5" y="34.8" font-size="5.5" text-anchor="start" fill="#333" stroke="#333" stroke-width="0.3" font-family='"DejaVu Sans","Liberation Sans",sans-serif' >19</text>
<text x="424" y="50.2" font-size="9" text-anchor="start" fill="#111" stroke="#111" stroke-width="0.3" font-family='"DejaVu Sans","Liberation Sans",sans-serif' >×10</text>
<text x="442.5" y="46" font-size="5.5" text-anchor="start" fill="#333" stroke="#333" stroke-width="0.3" font-family='"DejaVu Sans","Liberation Sans",sans-serif' >19</text>
<path d="M415.6,270.2 l4.2,-7.5 h-8.5z" fill="#111"/>
<text x="424" y="270.3" font-size="9" text-anchor="start" fill="#111" stroke="#111" stroke-width="0.3" font-family='"DejaVu Sans","Liberation Sans",sans-serif' >2.07×10</text>
<text x="463.5" y="266.2" font-size="5.5" text-anchor="start" fill="#111" stroke="#111" stroke-width="0.3" font-family='"DejaVu Sans","Liberation Sans",sans-serif' >9</text>
<text x="172" y="294.3" font-size="11" text-anchor="start" fill="#111" font-family='"Liberation Serif","DejaVu Serif",serif' font-weight="bold">b)</text>
<rect x="45.8" y="325.6" width="163.9" height="230.2" fill="#fff" stroke="#8c8c8c" stroke-width="0.8"/>
<line x1="45.8" y1="545.4" x2="48.2" y2="545.4" stroke="#444" stroke-width="0.8"/>
<line x1="207.5" y1="545.4" x2="209.7" y2="545.4" stroke="#666" stroke-width="0.7"/>
<text x="44.1" y="548.3" font-size="7.8" text-anchor="end" fill="#111" stroke="#111" stroke-width="0.3" font-family='"DejaVu Sans","Liberation Sans",sans-serif' >0</text>
<line x1="45.8" y1="531.5" x2="48.2" y2="531.5" stroke="#444" stroke-width="0.8"/>
<line x1="207.5" y1="531.5" x2="209.7" y2="531.5" stroke="#666" stroke-width="0.7"/>
<text x="44.1" y="534.3" font-size="7.8" text-anchor="end" fill="#111" stroke="#111" stroke-width="0.3" font-family='"DejaVu Sans","Liberation Sans",sans-serif' >50</text>
<line x1="45.8" y1="517.5" x2="48.2" y2="517.5" stroke="#444" stroke-width="0.8"/>
<line x1="207.5" y1="517.5" x2="209.7" y2="517.5" stroke="#666" stroke-width="0.7"/>
<text x="44.1" y="520.4" font-size="7.8" text-anchor="end" fill="#111" stroke="#111" stroke-width="0.3" font-family='"DejaVu Sans","Liberation Sans",sans-serif' >100</text>
<line x1="45.8" y1="503.6" x2="48.2" y2="503.6" stroke="#444" stroke-width="0.8"/>
<line x1="207.5" y1="503.6" x2="209.7" y2="503.6" stroke="#666" stroke-width="0.7"/>
<text x="44.1" y="506.5" font-size="7.8" text-anchor="end" fill="#111" stroke="#111" stroke-width="0.3" font-family='"DejaVu Sans","Liberation Sans",sans-serif' >150</text>
<line x1="45.8" y1="489.6" x2="48.2" y2="489.6" stroke="#444" stroke-width="0.8"/>
<line x1="207.5" y1="489.6" x2="209.7" y2="489.6" stroke="#666" stroke-width="0.7"/>
<text x="44.1" y="492.5" font-size="7.8" text-anchor="end" fill="#111" stroke="#111" stroke-width="0.3" font-family='"DejaVu Sans","Liberation Sans",sans-serif' >200</text>
<line x1="45.8" y1="475.7" x2="48.2" y2="475.7" stroke="#444" stroke-width="0.8"/>
<line x1="207.5" y1="475.7" x2="209.7" y2="475.7" stroke="#666" stroke-width="0.7"/>
<text x="44.1" y="478.6" font-size="7.8" text-anchor="end" fill="#111" stroke="#111" stroke-width="0.3" font-family='"DejaVu Sans","Liberation Sans",sans-serif' >250</text>
<line x1="45.8" y1="461.8" x2="48.2" y2="461.8" stroke="#444" stroke-width="0.8"/>
<line x1="207.5" y1="461.8" x2="209.7" y2="461.8" stroke="#666" stroke-width="0.7"/>
<text x="44.1" y="464.6" font-size="7.8" text-anchor="end" fill="#111" stroke="#111" stroke-width="0.3" font-family='"DejaVu Sans","Liberation Sans",sans-serif' >300</text>
<line x1="45.8" y1="447.8" x2="48.2" y2="447.8" stroke="#444" stroke-width="0.8"/>
<line x1="207.5" y1="447.8" x2="209.7" y2="447.8" stroke="#666" stroke-width="0.7"/>
<text x="44.1" y="450.7" font-size="7.8" text-anchor="end" fill="#111" stroke="#111" stroke-width="0.3" font-family='"DejaVu Sans","Liberation Sans",sans-serif' >350</text>
<line x1="45.8" y1="433.9" x2="48.2" y2="433.9" stroke="#444" stroke-width="0.8"/>
<line x1="207.5" y1="433.9" x2="209.7" y2="433.9" stroke="#666" stroke-width="0.7"/>
<text x="44.1" y="436.8" font-size="7.8" text-anchor="end" fill="#111" stroke="#111" stroke-width="0.3" font-family='"DejaVu Sans","Liberation Sans",sans-serif' >400</text>
<line x1="45.8" y1="419.9" x2="48.2" y2="419.9" stroke="#444" stroke-width="0.8"/>
<line x1="207.5" y1="419.9" x2="209.7" y2="419.9" stroke="#666" stroke-width="0.7"/>
<text x="44.1" y="422.8" font-size="7.8" text-anchor="end" fill="#111" stroke="#111" stroke-width="0.3" font-family='"DejaVu Sans","Liberation Sans",sans-serif' >450</text>
<line x1="45.8" y1="406" x2="48.2" y2="406" stroke="#444" stroke-width="0.8"/>
<line x1="207.5" y1="406" x2="209.7" y2="406" stroke="#666" stroke-width="0.7"/>
<text x="44.1" y="408.9" font-size="7.8" text-anchor="end" fill="#111" stroke="#111" stroke-width="0.3" font-family='"DejaVu Sans","Liberation Sans",sans-serif' >500</text>
<line x1="45.8" y1="392.1" x2="48.2" y2="392.1" stroke="#444" stroke-width="0.8"/>
<line x1="207.5" y1="392.1" x2="209.7" y2="392.1" stroke="#666" stroke-width="0.7"/>
<text x="44.1" y="394.9" font-size="7.8" text-anchor="end" fill="#111" stroke="#111" stroke-width="0.3" font-family='"DejaVu Sans","Liberation Sans",sans-serif' >550</text>
<line x1="45.8" y1="378.1" x2="48.2" y2="378.1" stroke="#444" stroke-width="0.8"/>
<line x1="207.5" y1="378.1" x2="209.7" y2="378.1" stroke="#666" stroke-width="0.7"/>
<text x="44.1" y="381" font-size="7.8" text-anchor="end" fill="#111" stroke="#111" stroke-width="0.3" font-family='"DejaVu Sans","Liberation Sans",sans-serif' >600</text>
<line x1="45.8" y1="364.2" x2="48.2" y2="364.2" stroke="#444" stroke-width="0.8"/>
<line x1="207.5" y1="364.2" x2="209.7" y2="364.2" stroke="#666" stroke-width="0.7"/>
<text x="44.1" y="367.1" font-size="7.8" text-anchor="end" fill="#111" stroke="#111" stroke-width="0.3" font-family='"DejaVu Sans","Liberation Sans",sans-serif' >650</text>
<line x1="45.8" y1="350.2" x2="48.2" y2="350.2" stroke="#444" stroke-width="0.8"/>
<line x1="207.5" y1="350.2" x2="209.7" y2="350.2" stroke="#666" stroke-width="0.7"/>
<text x="44.1" y="353.1" font-size="7.8" text-anchor="end" fill="#111" stroke="#111" stroke-width="0.3" font-family='"DejaVu Sans","Liberation Sans",sans-serif' >700</text>
<line x1="45.8" y1="336.3" x2="48.2" y2="336.3" stroke="#444" stroke-width="0.8"/>
<line x1="207.5" y1="336.3" x2="209.7" y2="336.3" stroke="#666" stroke-width="0.7"/>
<text x="44.1" y="339.2" font-size="7.8" text-anchor="end" fill="#111" stroke="#111" stroke-width="0.3" font-family='"DejaVu Sans","Liberation Sans",sans-serif' >750</text>
<line x1="92.5" y1="325.6" x2="92.5" y2="327.6" stroke="#777" stroke-width="0.7"/>
<line x1="92.5" y1="553.8" x2="92.5" y2="555.8" stroke="#777" stroke-width="0.7"/>
<text x="92.9" y="565.5" font-size="7.8" text-anchor="middle" fill="#111" stroke="#111" stroke-width="0.3" font-family='"DejaVu Sans","Liberation Sans",sans-serif' >0</text>
<line x1="148.3" y1="325.6" x2="148.3" y2="327.6" stroke="#777" stroke-width="0.7"/>
<line x1="148.3" y1="553.8" x2="148.3" y2="555.8" stroke="#777" stroke-width="0.7"/>
<text x="148.7" y="565.5" font-size="7.8" text-anchor="middle" fill="#111" stroke="#111" stroke-width="0.3" font-family='"DejaVu Sans","Liberation Sans",sans-serif' >200</text>
<text x="37.5" y="321.3" font-size="9" text-anchor="start" fill="#111" stroke="#111" stroke-width="0.3" font-family='"DejaVu Sans","Liberation Sans",sans-serif' textLength="190" lengthAdjust="spacingAndGlyphs" style="white-space:pre">Time=0.1 s   Surface: Electron temperature (V)</text>
<g clip-path="url(#cc)"><rect x="92.5" y="335.3" width="40" height="220" fill="#000080"/>
<path fill="#000089" d="M91.4,547.1L120.4,547.1L120.4,334.6L91.4,334.6Z"/>
<path fill="#000096" d="M91.4,547.1L120.4,547.1L120.4,334.6L91.4,334.6Z"/>
<path fill="#0000a4" d="M91.4,547.1L120.4,547.1L120.4,334.6L91.4,334.6Z"/>
<path fill="#0000b2" d="M91.4,547.1L120.4,547.1L120.4,334.6L91.4,334.6Z"/>
<path fill="#0000bf" d="M91.4,547.1L120.4,547.1L120.4,336.3L101.4,336.3L101.4,334.6L91.4,334.6Z"/>
<path fill="#0000cd" d="M120.4,547.1L120.4,337.2L101.4,337.2L100.5,336.3L100.5,334.6L91.4,334.6L91.4,547.1Z"/>
<path fill="#0000da" d="M120.4,547.1L120.4,337.7L101.4,337.7L100,336.3L100,334.6L91.4,334.6L91.4,547.1Z"/>
<path fill="#0000e8" d="M120.4,547.1L120.4,338.1L101.4,338.1L99.6,336.3L99.6,334.6L91.4,334.6L91.4,547.1Z"/>
<path fill="#0000f6" d="M120.4,547.1L120.4,338.5L101.4,338.5L99.2,336.3L99.2,334.6L91.4,334.6L91.4,547.1Z"/>
<path fill="#0000ff" d="M120.4,547.1L120.4,338.8L101.4,338.8L98.9,336.3L98.9,334.6L91.4,334.6L91.4,547.1Z"/>
<path fill="#0000ff" d="M120.4,547.1L120.4,339.1L101.4,339.1L98.6,336.3L98.6,334.6L91.4,334.6L91.4,547.1Z"/>
<path fill="#0008ff" d="M120.4,547.1L120.4,339.5L101.4,339.5L98.3,336.3L98.3,334.6L91.4,334.6L91.4,547.1Z"/>
<path fill="#0014ff" d="M120.4,547.1L120.4,339.8L101.4,339.8L98,336.3L98,334.6L91.4,334.6L91.4,547.1Z"/>
<path fill="#0020ff" d="M120.4,547.1L120.4,340.1L101.4,340.1L97.6,336.3L97.6,334.6L91.4,334.6L91.4,547.1Z"/>
<path fill="#002cff" d="M120.4,547.1L120.4,340.4L101.4,340.4L97.3,336.3L97.3,334.6L91.4,334.6L91.4,547.1Z"/>
<path fill="#0038ff" d="M120.4,547.1L120.4,340.7L101.4,340.7L97,336.3L97,334.6L91.4,334.6L91.4,547.1Z"/>
<path fill="#0044ff" d="M120.4,547.1L120.4,341L101.4,341L96.7,336.3L96.7,334.6L91.4,334.6L91.4,547.1Z"/>
<path fill="#0050ff" d="M120.4,547.1L120.4,341.4L101.4,341.4L96.4,336.3L96.4,334.6L91.4,334.6L91.4,547.1Z"/>
<path fill="#005cff" d="M120.4,547.1L120.4,341.7L101.4,341.7L96.1,336.3L96.1,334.6L91.4,334.6L91.4,547.1Z"/>
<path fill="#0068ff" d="M120.4,547.1L120.4,341.9L101.4,341.9L95.8,336.3L95.8,334.6L91.4,334.6L91.4,547.1Z"/>
<path fill="#0074ff" d="M120.4,547.1L120.4,342.2L101.4,342.2L95.5,336.3L95.5,334.6L91.4,334.6L91.4,547.1Z"/>
<path fill="#0080ff" d="M120.4,547.1L120.4,342.5L101.4,342.5L95.2,336.3L95.2,334.6L91.4,334.6L91.4,547.1Z"/>
<path fill="#0088ff" d="M120.4,547.1L120.4,342.8L101.4,342.8L95,336.3L95,334.6L91.4,334.6L91.4,547.1Z"/>
<path fill="#0094ff" d="M120.4,547.1L120.4,343L101.4,343L94.7,336.3L94.7,334.6L91.4,334.6L91.4,547.1Z"/>
<path fill="#00a0ff" d="M120.4,547.1L120.4,343.3L101.4,343.3L94.4,336.3L94.4,334.6L91.4,334.6L91.4,547.1Z"/>
<path fill="#00acff" d="M120.4,547.1L120.4,343.6L101.4,343.6L94.1,336.3L94.1,334.6L91.4,334.6L91.4,547.1Z"/>
<path fill="#00b8ff" d="M120.4,547.1L120.4,343.9L101.4,343.9L93.9,336.3L93.9,334.6L91.4,334.6L91.4,547.1Z"/>
<path fill="#00c4ff" d="M120.4,547.1L120.4,344.2L101.4,344.2L93.6,336.3L93.6,334.6L91.4,334.6L91.4,547.1Z"/>
<path fill="#00d0ff" d="M120.4,547.1L120.4,344.5L101.4,344.5L93.2,336.3L93.2,334.6L91.8,334.6L91.8,336.3L91.4,336.7L91.4,547.1Z"/>
<path fill="#00dcfe" d="M120.4,547.1L120.4,344.8L101.4,344.8L92.9,336.3L92.9,334.6L92.1,334.6L92.1,336.3L91.4,337L91.4,547.1Z"/>
<path fill="#02e8f4" d="M120.4,547.1L120.4,345.3L101.4,345.3L92.5,336.3L91.4,337.4L91.4,547.1Z"/>
<path fill="#0cf4eb" d="M120.4,547.1L120.4,345.7L101.4,345.7L92.5,336.8L91.4,337.9L91.4,547.1Z"/>
<path fill="#13fce4" d="M120.4,547.1L120.4,346.2L101.4,346.2L92.5,337.3L91.4,338.4L91.4,547.1Z"/>
<path fill="#1cffdb" d="M120.4,547.1L120.4,346.8L101.4,346.8L92.5,337.9L91.4,339L91.4,547.1Z"/>
<path fill="#26ffd1" d="M120.4,547.1L120.4,347.4L101.4,347.4L92.5,338.5L91.4,339.6L91.4,547.1Z"/>
<path fill="#30ffc7" d="M120.4,547.1L120.4,348.1L101.4,348.1L92.5,339.2L91.4,340.3L91.4,547.1Z"/>
<path fill="#39ffbe" d="M120.4,547.1L120.4,348.8L101.4,348.8L92.5,339.9L91.4,341L91.4,547.1Z"/>
<path fill="#43ffb4" d="M120.4,547.1L120.4,349.5L101.4,349.5L92.5,340.6L91.4,341.7L91.4,547.1Z"/>
<path fill="#4dffaa" d="M120.4,547.1L120.4,350.3L101.4,350.3L92.5,341.3L91.4,342.5L91.4,547.1Z"/>
<path fill="#56ffa0" d="M120.4,547.1L120.4,351L101.4,351L92.5,342L91.4,343.2L91.4,547.1Z"/>
<path fill="#60ff97" d="M120.4,547.1L120.4,351.6L101.4,351.6L92.5,342.7L91.4,343.8L91.4,547.1Z"/>
<path fill="#6aff8d" d="M120.4,547.1L120.4,352.3L101.4,352.3L92.5,343.3L91.4,344.5L91.4,547.1Z"/>
<path fill="#73ff83" d="M120.4,547.1L120.4,352.9L101.4,352.9L92.5,344L91.4,345.1L91.4,547.1Z"/>
<path fill="#7dff7a" d="M120.4,547.1L120.4,353.5L101.4,353.5L92.5,344.6L91.4,345.7L91.4,547.1Z"/>
<path fill="#83ff73" d="M120.4,547.1L120.4,354.1L101.4,354.1L92.5,345.2L91.4,346.3L91.4,547.1Z"/>
<path fill="#8dff6a" d="M120.4,547.1L120.4,354.7L101.4,354.7L92.5,345.8L91.4,346.9L91.4,547.1Z"/>
<path fill="#97ff60" d="M120.4,547.1L120.4,355.4L101.4,355.4L92.5,346.4L91.4,347.5L91.4,547.1Z"/>
<path fill="#a0ff56" d="M120.4,547.1L120.4,356L101.4,356L92.5,347L91.4,348.2L91.4,547.1Z"/>
<path fill="#aaff4d" d="M120.4,547.1L120.4,356.6L101.4,356.6L92.5,347.7L91.4,348.8L91.4,547.1Z"/>
<path fill="#b4ff43" d="M120.4,547.1L120.4,357.2L101.4,357.2L92.5,348.3L91.4,349.4L91.4,547.1Z"/>
<path fill="#beff39" d="M120.4,547.1L120.4,357.9L101.4,357.9L92.5,348.9L91.4,350L91.4,547.1Z"/>
<path fill="#c7ff30" d="M120.4,547.1L120.4,358.5L101.4,358.5L92.5,349.6L91.4,350.7L91.4,547.1Z"/>
<path fill="#d1ff26" d="M120.4,547.1L120.4,359.2L101.4,359.2L92.5,350.2L91.4,351.4L91.4,547.1Z"/>
<path fill="#dbff1c" d="M120.4,547.1L120.4,359.8L101.4,359.8L92.5,350.9L91.4,352L91.4,547.1Z"/>
<path fill="#e4ff13" d="M120.4,547.1L120.4,360.6L101.4,360.6L92.5,351.6L91.4,352.8L91.4,547.1Z"/>
<path fill="#ebff0c" d="M120.4,547.1L120.4,361.3L101.4,361.3L92.5,352.4L91.4,353.5L91.4,547.1L109.9,547.1L109.9,545.4L110.9,544.9L112,544.6L113.1,544.8L114.4,545.4L114.4,547.1Z"/>
<path fill="#f4f802" d="M120.4,547.1L120.4,362L101.4,362L92.5,353.1L91.4,354.2L91.4,547.1L108.5,547.1L108.5,545.4L109.8,544.4L110.9,544.1L112,543.9L114.2,544.4L115.9,545.4L115.9,547.1Z"/>
<path fill="#feed00" d="M120.4,547.1L120.4,362.8L101.4,362.8L92.5,353.9L91.4,355L91.4,547.1L107.3,547.1L107.3,545.4L108.2,544.6L109.8,543.7L112,543.3L114.2,543.6L116.2,544.6L117.3,545.4L117.3,547.1Z"/>
<path fill="#ffe200" d="M120.4,547.1L120.4,363.6L101.4,363.6L92.5,354.6L91.4,355.8L91.4,547.1L105.9,547.1L105.9,545.4L107,544.4L109.2,543.2L112,542.7L114.2,543L116.2,543.7L119.1,545.4L119.1,547.1Z"/>
<path fill="#ffd700" d="M103.8,547.1L103.8,545.4L107.6,543.1L110.3,542.2L112.6,542.1L114.8,542.5L120.4,544.8L120.4,364.4L101.4,364.4L92.5,355.4L91.4,356.6L91.4,547.1Z"/>
<path fill="#ffcc00" d="M120.4,543.6L120.4,365.2L101.4,365.2L92.5,356.2L91.4,357.4L91.4,545.3L92.5,545.4L101.4,544.6L103.7,543.9L108.1,542.1L111.5,541.5L114.8,541.8Z"/>
<path fill="#ffc100" d="M120.4,542.4L120.4,366L101.4,366L92.5,357.1L91.4,358.2L91.4,543.2L101.4,542.9L108.7,541.1L111.5,540.8L114.8,541Z"/>
<path fill="#ffb600" d="M120.4,541L120.4,366.9L101.4,366.9L92.5,357.9L91.4,359L91.4,540.7L102,540.8L109.2,540L112,539.9L114.8,540.1Z"/>
<path fill="#ffab00" d="M120.4,539.5L120.4,367.7L101.4,367.7L92.5,358.8L91.4,359.9L91.4,537.4L92.5,537.3L102.5,538.5L112.6,538.8Z"/>
<path fill="#ff9f00" d="M120.4,537.8L120.4,368.6L101.4,368.6L92.5,359.7L91.4,360.8L91.4,534.5L92.5,534.3L100.3,535.7L107,536.6L118.1,537.7Z"/>
<path fill="#ff9400" d="M120.4,536L120.4,369.6L101.4,369.6L92.5,360.7L91.4,361.8L91.4,532.2L92.5,532L109.2,534.8L118.1,536Z"/>
<path fill="#ff8d00" d="M120.4,534.3L120.4,370.7L101.4,370.7L92.5,361.8L91.4,362.9L91.4,530.3L92.5,530.1L111.5,533.3L118.1,534.2Z"/>
<path fill="#ff8200" d="M120.4,532.6L120.4,371.9L101.4,371.9L92.5,363L91.4,364.1L91.4,528.6L92.5,528.3L112.6,531.7L118.1,532.6Z"/>
<path fill="#ff7700" d="M120.4,531L120.4,373L101.4,373L92.5,364.1L91.4,365.2L91.4,526.7L92.5,526.5L111.5,529.9L118.1,531Z"/>
<path fill="#ff6c00" d="M120.4,529.5L120.4,374.1L101.4,374.1L92.5,365.2L91.4,366.3L91.4,524.8L92.5,524.5L99.9,526.2L108.7,527.8L118.1,529.4Z"/>
<path fill="#ff6000" d="M120.4,527.9L120.4,375L101.4,375L92.5,366.1L91.4,367.3L91.4,522.5L92.5,522.1L98.6,523.9L105.9,525.5L118.1,527.8Z"/>
<path fill="#ff5500" d="M120.4,526.2L120.4,376L101.4,375.9L92.5,366.9L91.4,368.1L91.4,519.9L92.5,519.5L99.2,521.8L106.4,523.7L118.1,526.2Z"/>
<path fill="#ff4a00" d="M120.4,524.5L120.4,377.5L118.7,377.5L116.5,376.9L114.2,376.7L101.4,376.5L92.5,367.7L91.4,368.7L91.4,517.3L92.5,516.9L100.3,519.7L107.8,522L118.1,524.4Z"/>
<path fill="#ff3f00" d="M120.4,522.6L120.4,379.4L118.1,379.3L110.8,377.3L108.1,377.1L101.4,377.1L94.7,370.6L92.5,369.4L91.4,370.1L91.4,514.9L92.5,514.5L102.5,518.1L109.5,520.3L118.1,522.6Z"/>
<path fill="#ff3400" d="M120.4,520.7L120.4,381.2L118.1,381.1L106.3,378.1L101.4,377.7L98.6,375.2L92.5,372.3L91.4,372.8L91.4,512.6L92.5,512.3L112,518.9L118.1,520.6Z"/>
<path fill="#ff2900" d="M120.4,518.7L120.4,383L118.1,383L105.3,380.1L98.1,377.8L92.5,375.3L91.4,375.9L91.4,510.6L92.5,510.2L118.2,518.6Z"/>
<path fill="#ff1e00" d="M120.4,516.6L120.4,385.1L118.1,385L106.4,382.7L99.2,380.7L92.5,378.4L91.4,378.9L91.4,508.5L92.5,508.2L103.7,511.6L118.1,516.5Z"/>
<path fill="#ff1600" d="M120.4,514.5L120.4,387.4L118.1,387.4L107,385.4L99.2,383.5L92.5,381.4L91.4,381.8L91.4,506.3L92.5,506L107,510.6L118.1,514.4Z"/>
<path fill="#f60b00" d="M120.4,512.2L120.4,390L118.1,389.9L113.1,389.5L104.8,388.4L98.1,386.9L92.5,385.1L91.4,385.5L91.4,503.7L92.5,503.3L100.2,506.1L118.1,512.1Z"/>
<path fill="#e80000" d="M120.4,509.9L120.4,392.6L104.8,392.3L97.5,391.9L92.5,391.5L91.4,391.6L91.4,500.7L92.5,500.2L100.7,503.6L118.1,509.8Z"/>
<path fill="#da0000" d="M120.4,507.4L120.4,395.1L113.7,395.4L104.8,396.1L97.5,397.1L92.5,398.4L91.4,398L91.4,497.3L92.5,496.7L99.8,500.2L108.1,503.6L118.1,507.3Z"/>
<path fill="#cd0000" d="M118.7,504.7L120.4,504.7L120.4,397.4L118.1,397.4L113.1,398L104.8,399.4L100.9,400.5L98,401.5L95.3,403L92.5,404.9L91.4,404.1L91.4,493.1L92.5,492.5L98.6,496.1L103.4,498.6L110.3,501.6Z"/>
<path fill="#bf0000" d="M118.7,501.8L120.4,501.8L120.4,399.5L118.1,399.6L113.7,400.3L109.2,401.4L106.2,402.4L104.2,403.2L101.4,404.7L92.5,410.9L91.4,410L91.4,488.9L92.5,488.4L98.6,491.6L105.8,496.1L108.9,497.7L114.4,500.2Z"/>
<path fill="#b20000" d="M118.7,498.8L120.4,498.8L120.4,401.8L118.7,401.8L117.6,402L113.7,403.1L111.4,404L108.4,405.7L103.4,409.1L99.1,412.4L96.8,414.9L95.4,417.4L92.5,424.7L91.4,422.1L91.4,484.4L92.5,483.8L99.2,487.1L105.3,490.7L113.1,496.1L116.1,497.7Z"/>
<path fill="#a40000" d="M118.7,494.6L120.4,494.6L120.4,404.9L118.1,405L114.2,407.4L109.6,410.7L107.6,412.4L106.1,414.1L104.1,417.4L101.7,423.3L100.6,425.8L98.9,428.3L93.6,435L92.8,436.7L92.5,438.3L92.5,474.3L92.7,476L94,477.7L96,479.3L109.2,487.5L113.7,490.8L118.1,494.4ZM91.4,477.2L92.3,476L92.5,474.3L92.5,438.3L92.2,436.7L91.4,435.1Z"/>
<path fill="#960000" d="M118.7,487.4L120.4,487.4L120.4,410.4L118.7,410.4L118.1,410.6L115.4,413.2L114.1,414.9L112.3,418.3L110,424.1L108.8,426.6L103.8,435L103.1,436.7L102.9,438.3L102.9,455.9L103,460.1L103.9,467.6L105.5,475.1L106.4,476.8L108.8,479.3L118.1,487.2Z"/>
<path fill="#890000" d="M118.7,474.9L120.4,474.9L120.4,424.7L118.7,424.7L118.1,425.4L114.2,434.2L113.4,436.7L113.2,438.3L113.3,455.9L113.7,460.9L114.6,465.1L115.6,468.5L118.1,474.3Z"/>
</g>
<path d="M101.4,336.3 H162.2 V545.4 H118.4" fill="none" stroke="#8c8c8c" stroke-width="0.8"/>
<path d="M119.04,545.40L119.04,366.41A3.40,3.40 0 0 0 115.64,363.01L107.56,363.01A5.52,5.52 0 0 1 102.03,357.49L102.03,336.30" fill="none" stroke="#fbfbfb" stroke-width="1.3"/>
<path d="M119.71,545.40L119.71,366.41A4.07,4.07 0 0 0 115.64,362.34L107.56,362.34A4.85,4.85 0 0 1 102.70,357.49L102.70,336.30" fill="none" stroke="#7d7d7d" stroke-width="0.7"/>
<path d="M92.50,545.40L118.43,545.40L118.43,366.41A2.79,2.79 0 0 0 115.64,363.62L107.56,363.62A6.13,6.13 0 0 1 101.42,357.49L101.42,336.30L92.50,336.30Z" fill="none" stroke="#555" stroke-width="0.6" stroke-opacity="0.85"/>
<circle cx="121.9" cy="406" r="3.0" fill="#fff" stroke="#333" stroke-width="1"/>
<circle cx="121.9" cy="426.9" r="3.0" fill="#fff" stroke="#333" stroke-width="1"/>
<circle cx="121.9" cy="447.8" r="3.0" fill="#fff" stroke="#333" stroke-width="1"/>
<circle cx="121.9" cy="468.7" r="3.0" fill="#fff" stroke="#333" stroke-width="1"/>
<circle cx="121.9" cy="489.6" r="3.0" fill="#fff" stroke="#333" stroke-width="1"/>
<rect x="115.4" y="537" width="1.6" height="8.4" fill="#101080"/>
<text x="127.3" y="574.5" font-size="8.3" text-anchor="middle" fill="#111" stroke="#111" stroke-width="0.3" font-family='"DejaVu Sans","Liberation Sans",sans-serif' >r (mm)</text>
<text transform="translate(15.8,440.2) rotate(-90)" font-size="8.1" text-anchor="middle" fill="#111" stroke="#111" stroke-width="0.3" font-family='"DejaVu Sans","Liberation Sans",sans-serif'>z (mm)</text>
<text x="19" y="328.8" font-size="6.5" text-anchor="start" fill="#111" stroke="#111" stroke-width="0.3" font-family='"DejaVu Sans","Liberation Sans",sans-serif' >mm</text>
<text x="196.5" y="565.5" font-size="6.5" text-anchor="start" fill="#111" stroke="#111" stroke-width="0.3" font-family='"DejaVu Sans","Liberation Sans",sans-serif' >mm</text>
<rect x="218" y="352.6" width="5.9" height="189.1" fill="url(#gjet)"/>
<text x="227.2" y="533.8" font-size="7.8" text-anchor="start" fill="#111" stroke="#111" stroke-width="0.3" font-family='"DejaVu Sans","Liberation Sans",sans-serif' >0.5</text>
<text x="227.2" y="512.3" font-size="7.8" text-anchor="start" fill="#111" stroke="#111" stroke-width="0.3" font-family='"DejaVu Sans","Liberation Sans",sans-serif' >0.6</text>
<text x="227.2" y="490.8" font-size="7.8" text-anchor="start" fill="#111" stroke="#111" stroke-width="0.3" font-family='"DejaVu Sans","Liberation Sans",sans-serif' >0.7</text>
<text x="227.2" y="469.2" font-size="7.8" text-anchor="start" fill="#111" stroke="#111" stroke-width="0.3" font-family='"DejaVu Sans","Liberation Sans",sans-serif' >0.8</text>
<text x="227.2" y="447.7" font-size="7.8" text-anchor="start" fill="#111" stroke="#111" stroke-width="0.3" font-family='"DejaVu Sans","Liberation Sans",sans-serif' >0.9</text>
<text x="227.2" y="426.2" font-size="7.8" text-anchor="start" fill="#111" stroke="#111" stroke-width="0.3" font-family='"DejaVu Sans","Liberation Sans",sans-serif' >1</text>
<text x="227.2" y="404.6" font-size="7.8" text-anchor="start" fill="#111" stroke="#111" stroke-width="0.3" font-family='"DejaVu Sans","Liberation Sans",sans-serif' >1.1</text>
<text x="227.2" y="383.1" font-size="7.8" text-anchor="start" fill="#111" stroke="#111" stroke-width="0.3" font-family='"DejaVu Sans","Liberation Sans",sans-serif' >1.2</text>
<text x="227.2" y="361.6" font-size="7.8" text-anchor="start" fill="#111" stroke="#111" stroke-width="0.3" font-family='"DejaVu Sans","Liberation Sans",sans-serif' >1.3</text>
<path d="M216.5,330.9 l3.8,6.8 h-7.5z" fill="#111"/>
<text x="224.2" y="337.4" font-size="7.8" text-anchor="start" fill="#111" stroke="#111" stroke-width="0.3" font-family='"DejaVu Sans","Liberation Sans",sans-serif' >1.33</text>
<path d="M216.5,554.4 l3.8,-6.8 h-7.5z" fill="#111"/>
<text x="224.2" y="554.1" font-size="7.8" text-anchor="start" fill="#111" stroke="#111" stroke-width="0.3" font-family='"DejaVu Sans","Liberation Sans",sans-serif' >0.45</text>
<text x="0.8" y="576" font-size="11" text-anchor="start" fill="#111" font-family='"Liberation Serif","DejaVu Serif",serif' font-weight="bold">c)</text>
<rect x="258.8" y="312" width="261.2" height="261.5" fill="url(#gbg)"/>
<path d="M316,362 L296,547 M304.4,400 L320,406 M296,448 L315,454 M293.7,495.7 L309,500.8 M285.6,543.7 L304,548.5 M454.5,388 L434,564 M440.6,423 L459.4,424.6 M442,470 L455.4,471.2 M432.5,516.7 L450,518.2 M427,562.5 L446,565.2 M323,358.3 L433.5,365 M349,362.5 L444,370.8 M372,371.7 L459.4,380.4 M323,358.3 L340,366 M345,357 L377,373 M372,357 L402,374.5 M388.3,357.3 L427.7,374.6 M415.2,359.2 L451.7,375.6 M433.5,365 L459.4,380.4" fill="none" stroke="#9aa1aa" stroke-width="0.6"/>
<path d="M325.8,364.4L327.3,364.7L328.8,364.9L330.3,365.2L331.8,365.4L333.4,365.7L334.9,365.9L336.4,366.2L337.9,366.4L339.4,366.7L340.9,366.9L342.4,367.2L343.9,367.4L345.5,367.7L347,367.9L348.5,368.2L350,368.5L351.5,368.7L353,369L354.5,369.2L356.1,369.5L357.6,369.8L359.1,370L360.6,370.3L362.1,370.5L363.6,370.8L365.2,371.1L366.7,371.3L368.2,371.6L369.7,371.9L371.2,372.1L372.8,372.4L374.3,372.7L375.8,372.9L377.3,373.2L378.8,373.5L380.4,373.8L381.9,374.1L383.4,374.4L385,374.7L386.5,375L388,375.1L389.4,375.3L390.9,375.4L392.3,375.5L393.8,375.6L395.2,375.7L396.7,375.8L398.1,375.9L399.6,376L401,376.1L402.5,376.2L403.9,376.2L405.3,376.3L406.8,376.4L408.2,376.5L409.7,376.6L411.1,376.6L412.5,376.7L414,376.8L415.4,376.9L416.8,376.9L418.3,377L419.7,377.1L421.1,377.1L422.6,377.2L424,377.2L425.4,377.3L426.9,377.4L428.3,377.4L429.7,377.5L431.2,377.5L432.6,377.6L434,377.7L435.4,377.7L436.9,377.8L438.3,377.8L439.7,377.9L441.1,377.9L442.6,378L444,378L444,378L443.6,384.1L443.2,390.3L442.8,396.4L442.4,402.5L441.9,408.7L441.5,414.8L441,420.9L440.5,427.1L440,433.2L439.5,439.3L439,445.5L438.5,451.6L437.9,457.7L437.3,463.9L436.8,470L436.2,476.1L435.5,482.3L434.9,488.4L434.3,494.5L433.6,500.7L433,506.8L432.3,512.9L431.6,519.1L430.9,525.2L430.1,531.3L429.4,537.5L428.6,543.6L427.9,549.7L427.1,555.9L426.3,562L426.3,562L424.8,561.9L423.3,561.9L421.8,561.8L420.3,561.8L418.7,561.7L417.2,561.6L415.7,561.5L414.2,561.5L412.7,561.4L411.2,561.3L409.7,561.2L408.2,561.1L406.7,561L405.1,560.9L403.6,560.8L402.1,560.7L400.6,560.6L399.1,560.5L397.6,560.4L396.1,560.3L394.6,560.2L393.1,560.1L391.5,559.9L390,559.8L388.5,559.7L387,559.6L385.5,559.4L384,559.3L382.5,559.1L381,559L379.5,558.9L377.9,558.7L376.4,558.6L374.9,558.4L373.4,558.2L371.9,558.1L370.4,557.9L368.9,557.7L367.4,557.6L365.9,557.4L364.3,557.2L362.8,557L361.3,556.9L359.8,556.7L358.3,556.5L356.8,556.3L355.3,556.1L353.8,555.9L352.2,555.7L350.7,555.5L349.2,555.3L347.7,555.1L346.2,554.9L344.7,554.7L343.2,554.4L341.7,554.2L340.2,554L338.6,553.8L337.1,553.5L335.6,553.3L334.1,553.1L332.6,552.8L331.1,552.6L329.6,552.3L328.1,552.1L326.6,551.8L325,551.6L323.5,551.3L322,551.1L320.5,550.8L319,550.5L317.5,550.3L316,550L314.5,549.7L313,549.4L311.4,549.2L309.9,548.9L308.4,548.6L306.9,548.3L305.4,548L305.4,548L306.3,541.9L307.2,535.8L308,529.6L308.9,523.5L309.7,517.4L310.5,511.3L311.3,505.2L312.1,499L312.9,492.9L313.6,486.8L314.4,480.7L315.1,474.6L315.8,468.4L316.5,462.3L317.2,456.2L317.9,450.1L318.5,444L319.2,437.8L319.8,431.7L320.4,425.6L321,419.5L321.6,413.4L322.2,407.2L322.7,401.1L323.3,395L323.8,388.9L324.3,382.8L324.8,376.6L325.3,370.5L325.8,364.4Z" fill="#700606" stroke="#5e0000" stroke-width="0.6" stroke-linejoin="round"/>
<g clip-path="url(#cd)"><path d="M345.3,554.7L363.3,394.2L363.3,394L363.4,393.9L363.5,393.8L363.7,393.8L363.8,393.8L378.1,396.3L378.3,396.3L378.4,396.2L378.6,396.2L378.7,396.1L378.8,396L378.9,395.8L378.9,395.7L381.3,374L391.4,375.4L389,397.1L389,397.2L389,397.4L389.1,397.5L389.2,397.7L389.3,397.8L389.4,397.8L389.6,397.9L403.4,398.8L403.5,398.8L403.6,398.9L403.7,399L403.8,399.2L403.8,399.3L386.4,559.5Z" fill="#700000"/>
<path fill="#780000" d="M385.2,560.9L365.1,558.8L346.2,556.4L347.9,538.5L354.9,473.8L356.1,461.6L357.8,448.5L362.5,407.3L364.5,393.3L365.2,393L367.1,393.1L379.3,395L380.1,389.4L380.7,387.1L381.6,385.3L382.2,384.8L383.6,384.2L384.2,384.2L384.5,383.6L385.7,382.3L386.6,384.6L387.2,384.8L388.2,385.7L388.8,386.4L389.1,388.3L389.2,390.7L388.8,396.3L400.5,397.4L402.2,397.8L402.9,398.2L401.7,413.2L396.4,466.5L394.9,478.7L389.7,524.5Z"/>
<path fill="#810000" d="M384.5,560.8L365.1,558.8L346.8,556.5L347.5,546.2L348.5,535.7L355.2,473.8L356.2,461.6L357.9,449.5L362.7,408.3L363.9,399.4L365.1,393.4L367.1,393.3L379.5,395L380.3,390.4L381.3,388.1L381.9,387.6L383.9,386.6L384.8,384.6L385.5,383.8L386,384.8L386.3,387L387.9,388.5L388.5,389.1L388.8,391.6L388.6,396.3L389.4,396.5L401,397.7L402.2,398.2L402,405.7L401.3,415.1L397.3,454.3L396.2,467.4L394.7,478.6L388.5,532.8L386.3,549.6Z"/>
<path fill="#880000" d="M383.8,560.7L365.1,558.8L347.6,556.6L348,546.1L349,532.8L351.6,507.6L354.8,478.5L356.3,462.6L358.7,443.9L362.7,410.2L364.7,398L365.9,393.6L368.3,393.6L378.6,395.1L379.7,395L380.2,392.3L381.1,389.8L381.7,389.2L383.7,388.1L384.6,386L385.4,385.1L385.8,386.2L386.2,388.5L387.8,390.1L388.3,390.9L388.5,393.5L388.4,396.3L389.4,396.6L399.9,397.7L401.5,398.1L401.7,402.7L400.9,416L396,467.4L394,483.3L391.2,508.5L388.3,532.8L386,548.7Z"/>
<path fill="#900000" d="M383.1,560.7L365.1,558.8L348.3,556.7L348.5,554.8L348.3,549.6L348.8,540.5L350.2,522.7L355,478.6L356.5,461.7L358.9,443.9L362.7,412.1L363.9,404.7L365,399.1L366.6,393.7L368.9,393.8L378.6,395.1L379.9,395.1L380.8,391.7L381.7,390.6L382.9,389.8L383.6,389L384.5,387.3L385.2,386.4L385.7,387.5L386.1,389.4L386.5,390.3L387.5,391.5L388.1,392.7L388.2,396.3L389.4,396.6L398.7,397.7L400.8,398.1L401.1,401.9L401.2,405.6L400.4,418.8L395.8,468.4L393.8,483.3L391.1,507.6L388.4,530L385.6,548.6Z"/>
<path fill="#970000" d="M382.2,560.6L365.1,558.8L349.1,556.8L349.2,554.9L349,551L348.9,546.3L349.4,537.8L350.6,521.8L352.4,503L355,479.5L356.6,461.7L359,443.9L362.9,413.1L363.7,407.5L364.9,401.4L366,397.4L367.5,393.8L379.2,395.2L380.2,395.1L380.6,393.8L381.3,392.5L382.8,391L384.4,388.2L385.1,387.5L385.6,388.4L386.4,391.6L387.4,393.4L387.8,394.8L387.9,396.2L388.8,396.6L392.3,397.1L399.9,398L400.6,402L400.7,407.5L400.2,418.8L395.6,469.3L393.7,483.3L390.8,509.4L387.8,531.8L385.1,548.6L383.9,554.1L382.5,558.7Z"/>
<path fill="#9f0000" d="M380.9,560.5L365.1,558.8L350.5,557L350.6,556L349.8,552.9L349.6,550.2L349.5,543.5L349.9,535L350.9,520.8L352.7,502.1L355.1,479.6L356.5,462.6L357.7,453.3L359.7,440.2L363,414.1L364.8,403.9L366.6,397.5L367.4,395.8L368.8,394.2L378.6,395.2L380.7,395.2L381.7,393.5L382.6,392.4L383.2,390.9L384.3,388.8L385,388.3L385.5,389L386.1,391.4L386.2,393L386.9,394.3L387.4,396.2L388.8,396.6L392.3,397.3L398.1,397.9L398.6,398.1L399.6,400L400,401.9L400.3,405.6L400.3,411.2L399.8,419.7L397.6,444.9L396.1,464.6L395.1,473L393.4,484.2L389.3,518.8L387.5,531.8L384.8,547.6L383.3,554.1L382.4,556.7L381,559.5Z"/>
<path fill="#a90000" d="M378.6,560.3L352.7,557.3L352.8,556.3L352.5,555.3L351,552.9L350.6,551.6L350.2,549.6L350,546L350.1,539.8L351.3,519L352.9,502.1L354.9,483.3L356.7,461.7L358.1,451.4L359.9,440.3L363.3,414.1L365.1,404.9L366,401.2L366.9,398.5L367.9,396.8L368.6,396.1L369.9,395.2L371.4,394.5L375.5,395.1L381.4,395.4L382.5,393.7L383,391.9L384.2,389.5L384.9,389L385.4,389.7L386,392.3L386.1,394.2L386.7,396.1L392.2,397.4L396.1,397.8L397.4,398.8L398.4,400L399.4,402.1L399.7,404.5L399.9,408.4L399.9,414.2L399.2,423.4L397.3,444.9L396.7,456.2L395.9,465.5L395,473L392.9,487L390.6,507.5L388.1,526.2L385.3,542.9L383.4,551.3L382.8,553.4L382,555.2L381,556.7L379.3,558.4L378.7,559.3Z"/>
<path fill="#b00000" d="M375.7,560L355.7,557.6L355.8,556.7L355.4,555.7L353.3,553.5L351.9,551.1L351.2,549.4L350.8,547.5L350.5,541.7L351.1,526.6L352.8,504.9L355,484.3L356.1,469.2L356.9,460.8L358.2,451.4L360.1,440.3L363.5,415.1L365.2,405.9L366.9,400.3L367.7,398.9L369.1,397.4L371,396.3L374.4,395L381.9,395.4L382.4,394.6L383.7,391L384.2,390L384.9,389.6L385.4,390.2L385.6,391.3L386,395.2L386.3,396.1L388.8,396.8L393.3,397.6L396.7,400L398.2,401.9L399.1,404.4L399.4,407.2L399.5,412.1L399.4,416.8L397.2,444.9L396.6,456.2L395.7,466.5L394.8,473.9L392.5,488.8L390.2,508.5L387.3,529.4L384.7,543.8L383.1,550.3L382.3,552.1L380.9,554.5L378.9,556.5L376.4,558.1L375.8,559Z"/>
<path fill="#b80000" d="M372.4,559.6L359,558.1L359.1,557.1L354.8,552.5L352.8,549.7L351.6,546.7L351,542.4L351.1,533.3L351.8,520L353.2,503.1L355.3,483.4L356.2,469.2L357.1,459.8L358.7,448.6L360.9,435.7L363.8,415.2L365.4,406.8L366.6,402.6L367.4,401L368.9,399.3L370.9,397.9L374.7,396.3L375.9,395.3L382.3,395.5L383.1,392.8L384.1,390.6L384.8,390.1L385.3,390.8L385.9,396.1L391.8,397.5L392.7,398.7L395.4,400.8L397,402.3L398.3,404.5L398.9,406.8L399.2,411.2L399.1,416.8L397.3,441.2L396.4,458L395.1,471.1L392.5,487.9L390.3,506.6L388.2,521.5L386.4,532.7L384,544.7L382.7,548.8L381.9,550.5L380.5,552.6L379.1,554.1L377.7,555.2L372.5,558.7Z"/>
<path fill="#bf0000" d="M369.8,559.3L361.5,558.4L361.7,557.4L361.2,556.4L357.4,553.1L354,548.5L352.5,545.3L351.7,541.7L351.5,538.4L351.5,534.3L351.9,522L353.3,505L355.4,483.4L356.4,467.4L357.9,454.2L358.9,447.7L361.1,435.7L364.1,415.2L365.1,409.7L366.4,405.1L367.7,402.5L369.1,400.8L370.7,399.6L373.9,398L376.4,395.4L382.4,395.5L383.2,393.1L384,391.2L384.7,390.7L385.2,391.4L385.8,396L391.3,397.4L393.1,400.6L395.8,402.9L397,404.4L397.9,406.4L398.6,409.3L398.8,413L398.7,417.7L397.1,440.2L396.7,452.4L396,461.8L394.9,472.1L392.3,488.8L388.1,520.5L386.4,530.8L384.1,542.2L383.1,545.4L382.3,547.3L380.1,550.7L378.7,552.2L375.3,555L370.6,557.5L369.9,558.4Z"/>
<path fill="#c70000" d="M365.8,557.7L364.6,557.3L361.8,555.3L358,551.4L354.8,546.8L353.5,544.1L352.6,541.1L352.1,538L351.9,534.4L351.9,528.8L352.3,520L353.6,504.1L355,490L356.3,469.3L357,461.7L358.8,448.7L361,437.6L364.4,415.3L365.1,411.6L366.1,407.5L366.9,405.5L368.4,403.3L370.5,401.4L373.1,399.8L373.8,399.2L376.9,395.5L382.3,395.7L382.5,395.6L384,391.8L384.7,391.3L385.2,392L385.7,396L386.4,396.4L390.9,397.4L392.9,401.8L393.4,402.5L395.6,404.7L397.1,407L398,409.5L398.4,411.7L398.4,417.7L396.9,442.1L396.6,452.4L395.4,467.4L394.4,474.9L391.3,494.4L389.7,507.5L387.4,523.3L385.7,532.7L384.5,538.2L383.5,541.7L382.4,544.6L380.9,547.3L379,549.6L374.9,553.3L370.3,556.3L367.1,557.6Z"/>
<path fill="#cf0400" d="M366,555.9L364.8,555.6L363.7,555.1L362,553.8L358.2,549.2L357.1,547.7L355.1,544.1L354.1,541.9L353.2,538.8L352.5,534.3L352.3,526.8L352.7,518.3L353.8,504.1L355.2,489.2L356.3,471.2L357.1,461.8L358.9,448.7L362.3,431.1L364.6,416.2L365.7,410.7L366.6,408L367.5,406.4L368.9,404.4L370.3,403.1L372.3,401.8L373,401.1L375.2,398L377.3,395.6L382.3,395.8L382.6,395.6L383.9,392.4L384.6,391.9L385.1,392.6L385.6,396L385.9,396.3L390.4,397.4L393.3,403.8L393.8,404.7L395.4,406.4L396.5,408.2L397.3,410.2L397.9,413L398.1,414.9L398,419.6L397,435.5L396.5,452.4L395.3,467.4L394,476.7L391.3,493.6L389.4,508.4L387.3,522.4L385.8,530.7L383.9,537.9L382.2,542.2L380.7,545L379.3,547L376.5,549.9L375.1,551.2L370.4,554.8L368.5,555.7L367.2,555.9Z"/>
<path fill="#d40800" d="M366.2,554.5L365,554.2L363.8,553.7L362.1,552.3L360.5,550.3L357.5,545.6L355.5,541.5L354.5,538.8L353.6,535.4L352.9,530.9L352.7,525.9L353.1,517.4L355.3,490.1L356.3,472.1L357.2,461.8L359.2,447.8L362.1,433.2L365.3,414.4L366.4,410.2L367.2,408.5L368.7,406.4L372.1,403.2L375,399L377.8,395.6L382.2,395.9L382.8,395.6L383.8,393.1L384.5,392.6L385,393.3L385.4,396L385.9,396.4L390,397.3L391.9,401.2L393.6,406.1L395.7,409.1L396.6,411L397.5,414.2L397.7,418.6L396.8,437.6L396.4,452.4L395.2,467.4L393.9,476.7L391,494.4L387.2,521.4L385.6,529.8L384.3,534.6L382.6,538.9L381,541.9L379.5,544.3L376.6,547.8L372.6,551.7L370.6,553.3L368.7,554.2L367.4,554.5Z"/>
<path fill="#da0c00" d="M366.3,553L364.6,552.5L362.8,551.4L361.2,549.5L359.7,546.9L357.6,542.7L355.3,537L354,532.3L353.3,527.8L353.1,524L353.4,515.7L355.1,494.8L356.4,472.1L357.3,461.8L359.4,446.9L363.2,428L364.9,418.2L366.1,413.3L366.9,410.9L368.5,408.3L371.3,405.5L374.7,399.9L377.2,396.8L378.3,395.7L382.2,396L382.9,395.6L383.7,393.8L384.4,393.3L384.9,394L385.3,396L385.8,396.5L389.6,397.3L390.3,398.6L392,402.2L394,408.5L395.5,411L396.3,412.9L397,415.7L397.2,422.5L396.7,432.2L396.3,452.4L395.1,467.4L393.7,477.6L390.1,499L387.2,519.7L385.6,527.9L384.6,531.5L383,535.7L380.6,540L377.1,545L374.2,548.6L372.1,550.8L370.1,552.3L368.2,553Z"/>
<path fill="#df1100" d="M366.5,551.6L364.7,551.1L363,550L361.4,548L360.2,545.9L355.2,532.7L354.2,528.9L353.7,525.1L353.5,520.1L353.9,512.7L355.3,493.9L356.5,472.1L357.4,461.8L358.6,452.5L359.7,446L365.6,417.5L367.1,412.8L368.2,410.5L370.4,407.8L374.5,400.8L377.1,397.4L378.8,395.8L382.2,396.1L383.1,395.7L383.7,394.5L384.4,394L384.9,394.7L385.1,396L385.8,396.6L389.1,397.3L390.3,399.2L392,403.1L394.3,411L395.7,414.1L396.3,416.6L396.7,421.5L396.2,451.4L395.8,458.9L395,467.4L393.8,476.7L390.1,498.1L387.5,515.8L386.1,524L384.9,528.8L383.5,532.4L381.7,535.8L373.9,547.5L372.3,549.3L370.3,550.8L368.4,551.5Z"/>
<path fill="#e51500" d="M366.7,550.2L364.9,549.7L363.2,548.5L361.9,547.1L360.6,544.6L359.6,542L358.3,537.5L355.5,530L354.3,524.5L354,521.3L354.1,514.7L355.2,497.7L356.6,472.2L357.5,461.8L359.5,447.8L362.4,433.1L364.6,423.9L367.2,414.8L368.3,412.1L373.2,403.4L374.9,400.6L376.3,398.7L377.7,397.2L379.4,395.9L382.2,396.2L383.3,395.7L383.6,395.2L384.3,394.7L384.8,395.4L384.9,396L385.8,396.7L388.4,397.2L389.7,398.9L390.7,400.7L391.6,402.9L392.6,406L395.3,415.6L395.8,418.5L396.3,427.9L396.4,437.3L396.1,453.3L394.9,467.4L393.7,476.7L389.4,501.8L386.9,517.6L385.4,525L384.4,528.1L382,533.2L377.6,539.7L375.3,543.9L373.8,546.2L372,548.2L370.4,549.4L368.5,550.1Z"/>
<path fill="#e61e00" d="M366.8,548.8L365.1,548.2L363.3,547L361.8,545.2L360.8,543.1L359.8,540.3L358.6,535L355.8,527.5L355,524.3L354.7,521.4L354.5,517.3L354.6,510.9L355.4,498L356.7,472.2L357.6,461.8L359.6,447.8L362.6,433.1L364.6,424.8L366.4,418.5L368.1,414L369.3,411.3L373.5,403.5L376.3,399.3L378.4,397.3L380.2,396.1L382.8,396.2L384.2,395.4L385.2,396.6L385.8,396.8L387.7,397.2L389.1,398.8L390.6,401.2L391.6,403.5L392.6,406.9L394.8,415.6L395.4,419.4L396.2,428.8L396.3,437.3L396,452.4L394.8,467.3L393.4,477.6L389.1,502.1L387.1,514.8L385.8,521.1L384.7,525L383.7,527.7L382.3,530.6L377.9,537.3L375.5,542.1L374,544.7L372.5,546.4L370.6,547.9L368.7,548.6Z"/>
<path fill="#e62600" d="M367,547.3L365.2,546.8L363.5,545.5L362.4,544.3L361.3,542.2L360,538.5L358.4,531.3L356.2,525.4L355.3,520.5L355,513L355.1,506.2L356.7,473.1L357.7,461.8L359.7,447.9L363.1,431.2L364.5,425.8L368,414.9L369.6,411.4L373.2,404.4L374.7,401.8L376.2,399.9L378.3,397.9L380.3,396.7L381.3,396.3L382.8,396.4L384.1,396.1L385.2,396.8L386.7,397.1L387.5,397.7L389.1,399.4L390.6,401.8L391.5,404.1L392.4,407L394.3,414.6L395,418.4L396,429.8L396.2,437.3L395.9,452.4L394.7,467.3L393.2,478.5L387.6,510.1L386.3,516.7L384.3,524L382.3,528.5L378.9,533.8L375.7,540.4L373.7,543.7L372.1,545.4L370.8,546.4L368.8,547.2Z"/>
<path fill="#e62e00" d="M367.2,545.9L365.4,545.3L363.7,544L362.1,541.9L361.1,539.8L360.2,536.9L358.2,527.8L356.8,523.6L355.9,518.7L355.5,513.3L355.5,508.5L355.8,493L356.9,472.2L357.7,462.8L359.7,447.9L363,432.2L364.6,425.8L368.2,414.9L369.8,411.4L374.7,402.4L376.1,400.5L377.5,399.1L379.6,397.6L381.5,396.8L383.4,396.7L385.8,397.2L387.4,398.3L389,400L390.5,402.5L391.4,404.7L394.1,414.6L394.8,418.4L395.7,427.9L396.1,435.4L395.8,452.4L394.7,466.4L393.4,476.7L389.8,497.1L386.8,512.3L385.6,516.9L384.1,522.1L382.2,526.6L379.9,530.4L375.9,538.7L374.4,541.4L373,543.2L370.9,544.9L369,545.8Z"/>
<path fill="#e63500" d="M367.3,544.5L365.5,543.9L363.9,542.5L362.3,540.3L361.3,538.2L359.7,532.6L357.1,520.8L356.5,516.9L356,509.1L355.9,493L356.9,473.2L357.8,462.8L359.8,447.9L363.1,432.2L364.5,426.7L368.1,415.9L369.6,412.3L374.6,403.1L376.1,401.1L377.8,399.5L379.5,398.3L381.4,397.5L383.3,397.3L385.7,397.9L387.3,399L388.9,400.7L390.4,403L391.8,406.7L394.4,417.4L395.6,427.9L396,435.4L395.7,452.3L394.6,466.4L393.3,476.7L389.7,497.1L386.1,512.7L384.2,519.4L382.4,523.8L376.1,537.2L374.6,539.8L373.1,541.6L371.1,543.3L369.2,544.3Z"/>
<path fill="#e63d00" d="M367.5,543L365.7,542.4L364,540.9L362.4,538.7L361,535.4L359.2,527.7L357.2,515.1L356.2,503.5L356,495.9L357,473.2L357.9,462.8L359.9,447.9L363.2,432.2L365.2,424.9L368.3,415.9L369.8,412.4L374.5,403.7L376,401.8L377.4,400.3L379.4,398.9L381.4,398.1L383.3,397.9L385.1,398.2L386.7,399.1L388.3,400.7L389.9,402.9L390.8,404.8L391.7,407.4L393.6,414.5L394.2,417.4L395.5,428.8L395.9,435.4L395.6,452.3L394.5,466.4L393,477.6L389.2,499L387.6,505.4L383.7,518.3L378.9,530.1L375.5,537.1L373.3,540L371.3,541.8L369.3,542.8Z"/>
<path fill="#e64700" d="M367.6,541.5L365.9,540.9L364.8,540L363.1,538L361.6,535.2L360.7,532.5L359.8,528.8L358.3,519.1L356.5,503.6L356.1,496.9L356.2,490.2L357.1,474.1L357.9,462.8L360.1,447.9L363.3,432.2L365.4,425L368.5,415.9L370.6,411.2L373.7,405.7L375.9,402.5L377.3,401L379.3,399.5L381.3,398.7L383.2,398.5L385,398.9L386.7,399.8L388.3,401.3L389.8,403.5L390.8,405.5L391.6,408.1L393.4,414.5L394.2,418.3L395.4,428.8L395.8,435.8L395.5,452.3L394.4,466.4L393.2,475.7L389.8,495.2L388,503.6L385.3,511.8L379.3,528.2L377.2,532.9L375.6,535.7L373.5,538.4L371.5,540.3L369.5,541.3Z"/>
<path fill="#e64f00" d="M367.8,540.1L366,539.4L364.9,538.5L363.8,537.3L361.8,533.7L360.8,531.3L359.4,524.9L356.8,504.6L356.3,498.8L356.4,490.2L357.3,472.3L358,462.9L360.2,447.9L363.3,432.7L365.3,425.5L368.7,416L370.7,411.6L374.4,405.2L375.8,403.2L377.2,401.7L379.3,400.1L381.2,399.3L383.1,399.1L384.9,399.5L386.6,400.4L388.2,401.9L389.7,404.2L390.7,406.2L391.6,408.8L393.3,414.7L394.1,418.5L395.3,429.3L395.6,436.8L395.4,452.3L394.3,466.4L393.1,475.7L390,493.6L388.3,501.7L386.3,508.1L379.3,527.3L376.5,533.1L375.1,535.3L372.3,538.3L371,539.2L369.7,539.8Z"/>
<path fill="#e65600" d="M368,538.6L366.2,538L364.5,536.5L362.4,533.3L361,530L359.7,524L356.9,503.6L356.4,497.9L356.5,490.3L357.4,472.3L358.1,462.9L360.3,448L363.2,433.9L365.3,426.3L368.8,416L371.3,411L374.3,405.9L375.8,403.9L377.3,402.2L379.2,400.8L381.2,399.9L383.1,399.7L384.9,400.1L386.5,401L388.1,402.6L389.6,404.9L390.9,407.8L392.8,413.8L394,419.2L395.2,430.1L395.5,438L395.3,452.3L394.3,466.4L393,475.7L390,493.4L388.2,501.7L386.5,507.2L379.3,526.4L376.7,531.9L374.5,534.8L371.8,537.4L369.8,538.4Z"/>
<path fill="#e65c00" d="M368.1,537.2L366.4,536.6L364.7,535.1L362.6,532.1L361.1,528.8L359.9,523.3L358.6,513.4L357.1,503.7L356.6,498.5L356.5,493.1L357.4,473.2L358.2,462.9L360.4,448L363.3,434.1L365.2,427.1L368.8,416.8L371.2,411.6L374.2,406.6L376.2,403.9L377.8,402.4L379.8,401.1L381.7,400.4L383,400.3L384.8,400.7L386.5,401.6L388.1,403.2L389.6,405.5L390.6,407.7L392.7,414.4L393.9,420L395.1,430.9L395.4,438.2L395.2,452.3L394.1,466.4L392.8,476.6L389.7,494.3L388,501.7L386.3,507.2L382.6,516.3L379.2,525.6L376.8,530.7L374.7,533.5L371.9,536L370,537Z"/>
<path fill="#e66200" d="M368.3,535.9L366.5,535.3L365.4,534.4L364.3,533.2L362.3,530.1L361.3,527.5L360.4,524.1L357.2,503.5L356.7,497.5L356.7,492.5L357.5,473.3L358.3,462.9L360.5,448L363.4,434.2L365.2,427.8L368.9,417L371.4,411.7L374.9,406.2L376.3,404.4L377.7,403.1L379.7,401.7L381.5,401.1L382.9,401L384.7,401.3L386.4,402.3L387.9,403.8L389,405.3L390,407.2L391.3,410.9L392.7,415.1L393.4,418.7L394.7,428.9L395.2,437.2L395.1,452.3L394,466.3L392.6,476.6L389.1,496.4L388,501.3L386.1,507L378.5,526.3L376.9,529.4L375.4,531.6L372.7,534.2L371.4,535.1L370.1,535.7Z"/>
<path fill="#e66900" d="M368.4,534.6L366.7,534L365,532.6L363.1,530.2L361.7,527.1L360.6,522.8L357.3,502.8L356.8,497L356.8,490.9L357.6,472.9L358.4,462.9L360.6,448L363.6,434.2L365.6,426.9L369.2,417L371.7,411.7L374.8,407L376.2,405.1L378.1,403.3L379.6,402.3L380.9,401.8L382.9,401.6L384.6,402L386.3,402.9L387.9,404.5L388.9,406L390.4,409.1L391.9,413.5L392.7,416.4L393.4,419.5L394.6,429.8L395.1,437.2L395,452.3L393.9,466.3L392.5,476.6L389.3,494.9L388,500.7L386.2,506.3L378.7,525L376.6,528.9L374.5,531.5L372.2,533.5L370.3,534.4Z"/>
<path fill="#e66f00" d="M368.6,533.4L366.8,532.8L365.1,531.5L363.5,529.4L362,526.4L360.7,521.4L357.4,501.9L357,496L357,489.4L357.8,472.3L358.6,462.9L360.7,448L363.7,434.2L365.8,427L369.3,417.3L372,411.8L374.7,407.6L376.2,405.8L377.8,404.2L379.6,403L380.9,402.5L382.8,402.3L384.6,402.6L386.2,403.6L387.4,404.7L388.8,406.7L390.3,409.7L391.6,413.5L393.1,419.2L394.5,430.7L394.9,437.8L394.9,452.3L393.8,466.3L392.6,475.7L389.5,493.3L388,499.8L386.3,505.4L378.8,523.6L376.5,528.2L374.4,530.7L372.3,532.3L370.4,533.3Z"/>
<path fill="#e67500" d="M368.7,532.3L366.9,531.7L365.2,530.3L363.6,528.3L362.1,525.2L361.1,521.4L357.9,503.5L357.2,497L357.2,489.4L357.9,472.4L358.7,463L360.8,448L363.7,435.1L365.7,427.9L369.3,418L370.9,414.4L372.3,411.8L374.6,408.3L376.1,406.5L377.5,405.1L379.5,403.7L381.4,403L382.7,402.9L384.5,403.3L386.2,404.2L387.5,405.6L388.8,407.4L390.2,410.4L391.6,414.1L393,420.1L394.4,431.5L394.8,439.1L394.8,452.3L393.7,466.3L392.5,475.7L389.7,491.7L388.1,498.9L386.1,505.3L378.4,523.4L376.6,527L374.5,529.6L372.5,531.2L370.5,532.1Z"/>
<path fill="#e67a00" d="M368.8,531.2L367,530.6L365.4,529.2L363.7,527.1L362.3,524L361.4,520.7L357.9,502.6L357.4,496.1L357.3,488.5L358,472.4L358.8,463L360.9,448.1L363.5,436.4L365.6,428.8L369.5,418L372.4,412.2L374.6,409L376,407.2L378.1,405.2L379.4,404.4L380.8,403.8L382.6,403.6L384.4,403.9L385.5,404.5L386.8,405.5L388.2,407.3L389.7,410L391.1,413.4L391.9,416.2L392.7,419.9L394.2,431.5L394.7,440.3L394.7,452.3L393.6,466.3L392.2,476.6L389.4,492.4L387.7,499.8L385.6,506L378.3,522.7L376.7,525.7L374.6,528.4L372.6,530.1L370.7,531Z"/>
<path fill="#e68000" d="M368.9,530.1L367.2,529.5L365.5,528.1L363.9,526L362.7,523.5L361.6,519.4L358.1,501.9L357.5,495.7L357.5,488.5L358.1,473.3L358.9,463L361,448.1L363.4,437.6L365.8,428.8L369.8,418.1L372.3,412.8L373.8,410.6L375.9,407.9L378,406L379.3,405.1L380.6,404.5L382.6,404.2L384.3,404.6L385.5,405.2L386.9,406.5L388.1,408L389.6,410.7L391,414L391.9,417L392.5,420.1L394,431.5L394.5,441.5L394.6,452.3L393.5,466.3L392.1,476.6L389.4,491.4L387.6,499.3L385.7,505.1L378.4,521.4L376.5,525.1L374.7,527.3L372.7,529L370.8,529.9Z"/>
<path fill="#e68700" d="M369.1,529L367.3,528.4L365.6,527L364,524.8L363,522.7L361.7,518.1L358.3,502L357.7,496.2L357.6,489.5L358.1,473.9L359,463L361,449L363.3,438.8L366,428.9L369.8,418.7L372.6,412.8L373.7,411.1L375.8,408.6L377.9,406.7L379.3,405.8L381.2,405L382.5,404.9L384.3,405.3L385.4,405.9L386.5,406.8L388,408.7L389.5,411.3L390.8,414.3L392.3,420.1L393.8,431.4L394.3,438.2L394.5,452.3L393.4,466.3L392,476.6L389.1,492.3L387.5,498.8L385.4,505.2L378.6,520.2L376.3,524.3L374.9,526.1L372.8,527.9L370.9,528.8Z"/>
<path fill="#e68d00" d="M369.2,528L367.4,527.3L365.7,525.9L364.2,523.7L363.2,521.5L361.8,516.9L358.5,502L357.9,496.2L357.8,487.9L358.3,472.4L359.1,463L361.1,449L363.1,439.9L366.2,428.9L369.7,419.6L372.4,413.8L373.6,411.8L375.1,410L377.2,408L379.2,406.5L380.9,405.7L382.4,405.6L384.2,406L385.3,406.6L386.9,408.1L388.5,410.2L390.5,414.3L391.3,416.8L392.1,420.4L393.7,432.3L394.2,439.4L394.3,452.2L393.3,466.3L391.9,476.5L389,491.7L387.1,499.7L385.2,505.2L378.7,519L376.4,523.1L374.9,525L373,526.8L371,527.8Z"/>
<path fill="#e69300" d="M369.3,526.9L367.5,526.2L365.9,524.8L364.5,522.8L363.3,520.3L362,515.8L358.7,501.5L358.1,495.3L358,486.7L358.4,472.4L359.2,463L360.3,454.4L361.9,445.6L365.8,430.7L367,427.1L369.6,420.6L372.2,414.7L373.6,412.4L375,410.6L377.1,408.6L379.1,407.2L380.4,406.5L382.3,406.3L384.1,406.6L385.2,407.2L386.8,408.8L388.4,410.9L389.8,413.3L390.5,415.3L391.9,421L393.6,432.4L394,440.7L394.2,452.2L393.2,466.3L391.9,475.6L389.2,490.1L387.1,498.8L385.2,504.7L378.8,517.8L376.6,521.9L374.8,524L373.1,525.6L371.2,526.7Z"/>
<path fill="#e69800" d="M369.4,525.8L367.7,525.1L366,523.6L364.8,521.9L363.4,519L362.1,514.7L359.6,504.6L358.9,501.1L358.2,494.6L358.1,486.7L358.5,473.4L359.3,463.1L360.4,454.6L361.9,446.3L366,430.7L367.8,425.7L370.3,419.4L372.7,414.3L374.9,411.2L377,409.3L379,407.8L381,407.1L382.2,407L384,407.3L385.2,407.9L386.8,409.4L388.3,411.5L389.3,413.1L390.2,415.2L391.6,421L393.3,432.4L393.9,441.9L394.1,452.2L393.1,466.3L391.7,476.5L389.2,489.5L387.1,498.1L385.1,504.3L383.6,507.5L379,516.8L376.7,520.6L374.7,523.1L373.2,524.5L371.3,525.6Z"/>
<path fill="#e69e00" d="M369.6,524.7L368.1,524.2L366.7,523.1L365.6,521.7L364.1,518.9L363.1,516.6L360.1,505.5L359.1,501.1L358.4,494.4L358.3,486.7L358.6,473.4L359.4,463.1L360.5,454.7L362,446.3L365.9,431.8L368.5,424.5L371.9,416.6L373.3,413.9L374.5,412.2L376.9,409.9L379,408.5L380.9,407.8L382.2,407.7L384,408L385.1,408.6L386.7,410.1L388.2,412.1L389.9,415.2L391.4,421L393.1,432.4L393.8,443.1L394,452.2L393,466.3L391.4,477.5L388.8,490.4L387,497.8L384.8,504.2L382.9,508.3L377.6,518.4L376.1,520.4L374,522.7L372.7,523.8L371.1,524.6Z"/>
<path fill="#e6a400" d="M369.7,523.6L367.9,522.9L366.8,521.9L365.7,520.6L364.2,517.8L363.2,515.5L362.3,512.7L360.1,504.8L359.3,501L358.7,495.3L358.5,487.2L358.7,474.2L359.5,463.1L360.8,453.8L362.1,446.4L365.8,432.7L368.4,425.3L372.2,416.6L373.3,414.5L374.8,412.4L376.9,410.5L378.9,409.2L380.8,408.4L382.1,408.4L383.9,408.7L385,409.3L386.6,410.7L388.2,412.7L389.7,415.4L391.1,420.9L393,433.3L393.6,444.3L393.8,453.1L392.9,466.3L391.3,477.4L388.6,490.4L386.8,497.8L384.6,504.1L383,507.5L379.2,514.7L377.7,517.3L376.3,519.2L374.2,521.6L372.8,522.7L370.9,523.5Z"/>
<path fill="#e6a800" d="M369.8,522.4L368,521.7L366.9,520.8L365.3,518.6L363.8,515.7L362.9,513.2L361.5,508.8L359.6,501.2L358.9,494.5L358.6,485.8L358.9,472.4L359.6,463.1L360.9,453.8L362.3,446.4L366,432.7L368.3,426.2L372.1,417.5L373.2,415.2L374.7,413L376.8,411.1L378.8,409.8L380.8,409.1L382,409L383.8,409.4L384.9,410L386,410.8L387.6,412.6L388.7,414.2L389.6,416.1L390.8,420.9L392.3,429.3L392.9,434.3L393.7,449.4L393.6,455.8L392.7,466.3L391.3,476.4L388.7,489.2L386.6,497.8L384.7,503.3L381.1,510.5L378.5,515.1L377.1,517.3L375,519.8L373,521.5L371,522.3Z"/>
<path fill="#e6ad00" d="M369.9,521.3L368.8,520.9L367.1,519.6L366,518.3L364.4,515.7L363.4,513.5L362.1,509.5L359.9,501.2L359.1,495.4L358.8,486.8L359.1,472.5L359.8,463.1L360.9,454.2L362.4,446.5L366.5,432L368.9,425.5L372.3,417.6L374.6,413.7L376.1,412.2L378.1,410.8L380,409.9L381.9,409.7L383.7,410.1L384.8,410.6L385.9,411.5L387.5,413.2L388.5,414.7L389.5,416.8L390.7,421.7L392.2,430.1L392.7,434.2L393.6,450.3L393.3,458.3L392.6,466.2L391.5,474.6L388.9,487.6L386.7,496.6L384.4,503.3L380.9,510.3L377.2,516.3L375.1,518.6L373.1,520.3L371.2,521.2Z"/>
<path fill="#e6b100" d="M370.1,520.1L368.9,519.7L367.2,518.5L365.6,516.4L364,513.7L363.1,511.4L361.7,507.2L360,500.5L359.3,494.5L359,486.8L359.2,473.5L359.9,463.1L360.7,456.6L362.4,447.3L366.3,433.1L369,425.9L372.3,418.3L373.6,415.9L374.8,414.2L376.4,412.5L378,411.4L380,410.6L381.9,410.4L383.6,410.8L384.8,411.3L386.4,412.6L387.7,414.1L388.5,415.4L389.4,417.6L390.6,422.6L392.5,434.2L393.4,450.3L393.1,458.7L392.5,466.2L391,476.5L388.3,489.5L386.1,497.8L384.2,503.2L381,509.6L378.7,513.3L377.3,515.3L375.2,517.6L373.2,519.2L371.3,520Z"/>
<path fill="#e6b500" d="M370.2,518.9L369,518.6L367.3,517.3L365.7,515.4L364.1,512.8L362.2,507.9L360.3,500.3L359.5,494.2L359.2,486L359.3,474.5L360,463.2L361,455.7L362.5,447.4L366.2,434.3L368.9,426.8L373,417.7L375.2,414.3L377,412.6L378.6,411.7L380.5,411.1L381.8,411.1L383.6,411.5L384.7,412L386.1,413L387.4,414.5L388.4,416.1L389.3,418.4L390.5,423.6L392.3,434.5L393.2,449.3L393.2,455L392.4,466.2L390.7,477.4L388.1,489.4L386,497.5L384.2,502.4L381.1,508.8L378.8,512.5L377.4,514.4L375.3,516.6L373.3,518.1L371.4,518.9Z"/>
<path fill="#e6bb00" d="M370.3,517.7L369.1,517.4L367.4,516.2L365.8,514.4L364.2,511.8L363.3,509.8L362.3,507.2L360.6,500.4L359.6,493L359.4,484.3L359.5,472.4L360.2,463.2L361.5,453.9L362.7,447.4L366.9,432.8L368.8,427.7L372.9,418.6L375.1,415.1L376.5,413.7L377.9,412.7L379.8,412L381.7,411.8L383.5,412.2L384.6,412.7L386.3,413.9L387.2,415L388.8,418L390,422.6L391.5,430.7L392.2,435.7L393,449.8L393,455.9L392.2,466.2L390.7,476.2L388.3,487.8L386.1,496.2L383.6,503.2L380.4,509.4L378.9,511.7L377.5,513.5L375.5,515.5L373.5,517L371.6,517.7Z"/>
<path fill="#e6c000" d="M370.5,516.6L369.3,516.2L367.6,515.1L365.9,513.3L364.3,511L363.3,508.9L362.4,506.4L360.7,499.6L360.1,494.8L359.7,487.5L359.7,472.7L360.4,463.2L361.4,455.3L362.9,447.4L366.9,433.8L369.5,426.8L372.8,419.6L375,416L376.5,414.5L378.4,413.2L379.7,412.7L381.6,412.6L383.4,412.9L385.1,413.8L386.4,414.9L387.7,416.8L389.1,420.2L390.7,427.6L391.4,431.7L392,437L392.9,451.1L392.6,459.2L392,466.2L390.8,474.6L388.5,485.9L386.3,494.8L385.3,497.8L383.6,502.4L380.5,508.6L379,510.9L377.6,512.6L375.6,514.5L373.6,515.9L371.7,516.5Z"/>
<path fill="#e6c400" d="M370.6,515.4L369.4,515.1L367.7,514L366,512.3L364.4,510L363,506.9L361.2,500.5L360.2,493.3L359.9,485.6L359.9,474.6L360.6,463.3L361.6,455.8L363.1,447.5L366.7,435.3L369.4,427.9L372.6,420.7L374.9,417L376.4,415.4L378.3,414.1L380.3,413.4L381.5,413.4L383.3,413.7L385,414.6L386.3,415.8L387.6,417.8L389,421.3L390.6,428.7L391.6,435.5L392.6,451.2L392.4,458.7L391.8,466.2L390.3,476.4L387.5,489L385.5,496.4L382.9,503.1L379.8,508.9L377.7,511.7L375.7,513.5L373.7,514.7L371.8,515.4Z"/>
<path fill="#e6c800" d="M370.7,514.3L369.5,513.9L367.8,512.9L366.2,511.2L364.6,509.1L363.1,505.9L361.6,500.5L360.7,494.6L360.2,488L360.2,472.7L360.8,463.3L362,454.9L363.4,447.5L367.5,434L369.5,428.5L372.5,422L374,419.2L374.9,418L376.4,416.4L378.2,415.1L380.2,414.3L381.4,414.2L383.2,414.6L384.3,415.2L386,416.6L387,418.1L388.4,421.1L390,427.9L391.4,437L392.4,450.3L392.3,456.8L391.6,466.2L390.2,475.5L387.8,486.7L385.7,494.7L382.9,502.2L380.7,506.8L379.2,509.1L377.8,510.7L375.8,512.4L373.8,513.6L372,514.2Z"/>
<path fill="#e6cd00" d="M370.9,513.1L369.7,512.8L367.9,511.8L366.3,510.2L365,508.6L364.1,507.3L363.2,505L362,500.6L360.9,493L360.4,485.8L360.4,472.8L361,463.3L362,455.9L363.7,447.6L367.3,435.7L369.9,428.6L373.1,421.8L375.3,418.5L376.7,417.1L378.1,416.2L379.4,415.5L381.3,415.3L383.1,415.6L384.2,416.2L385.8,417.7L386.8,419.3L388.3,422.4L389.9,429.2L391,436L392.1,451.1L391.9,459.6L391.3,466.1L390.7,471.4L389.8,476.4L386.9,489.1L384.9,495.9L382.4,502.5L380.1,507L377.9,509.8L375.9,511.4L374,512.5L372.1,513.1Z"/>
<path fill="#e6d300" d="M371,512L369.8,511.7L368.1,510.7L366.9,509.8L365.3,507.9L363.8,505.2L362.4,500.7L361.4,494L360.8,486.1L360.7,472.7L361.3,463.4L362.3,455.9L364,447.6L368,434.8L370.3,428.6L373,423.2L374.5,420.8L375.9,419.1L377.3,417.8L378.6,417L379.9,416.5L381.2,416.4L383,416.8L384.1,417.4L385.2,418.4L386.2,419.7L387.2,421.5L388.1,423.8L389.4,428.6L390.7,436.9L391.8,450.2L391.7,457.7L391.1,466.1L389.5,476.3L387,487.5L384.6,495.7L381.7,503L379.4,507.1L377.4,509.3L375.4,510.8L374.1,511.5L372.2,512Z"/>
<path fill="#e6d602" d="M371.1,511L369.9,510.7L368.2,509.7L367,508.7L365.4,506.8L363.9,504.1L362.7,499.7L361.6,492.1L361.1,485.3L361,472.9L361.6,463.4L362.6,456L364.3,447.7L367.8,436.7L370.4,429.5L372.8,424.5L374.3,422.3L375.7,420.5L377.1,419.2L378.5,418.3L379.8,417.7L381,417.6L382.3,417.8L383.4,418.3L384.5,419.1L385.7,420.5L387,423L388,425.2L389.2,430L390.3,436.8L391.5,451.1L391.3,459.5L390.8,466.1L389.4,475.4L386.4,488.4L384.4,495L381.9,501.6L379.6,506L377.5,508.3L375.5,509.8L374.2,510.4L372.3,511Z"/>
<path fill="#e6d80b" d="M371.2,509.9L370,509.6L368.9,509L367.6,508L366.1,506.4L364.5,504.1L363.6,501.8L363.1,499.8L362.1,493L361.5,484.3L361.3,472.6L361.9,463.5L362.9,456L364.6,447.7L368.8,435.1L370.8,429.7L373.4,424.7L375.6,422L377,420.6L378.3,419.7L379.6,419.1L380.9,418.9L382.1,419.1L383.2,419.6L384.3,420.5L385.4,421.8L386.4,423.5L387.8,426.6L389,431.1L389.8,436.8L391.2,451.1L391.1,458.6L390.5,466.1L389.1,475.4L386.7,485.8L384.4,493.8L381.6,501.1L379.7,504.9L379,505.9L377.6,507.2L375.6,508.7L374.3,509.4L372.4,509.9Z"/>
<path fill="#e6d915" d="M371.3,508.9L370.1,508.5L368.4,507.6L367.3,506.6L365.9,505L364.6,503L364.2,501.9L363.3,498.3L362.4,492.1L361.8,484.2L361.7,473L362.2,463.5L363.2,456.1L364.9,447.8L367.4,440.5L370.9,430.7L373.3,426.1L375.4,423.5L376.8,422.2L378.1,421.1L379.5,420.5L380.7,420.3L381.9,420.5L383.1,421.1L384.2,422L385.2,423.3L387.2,426.9L388.5,431.1L389.4,436.8L390.9,451L390.7,459.5L390.2,466.1L388.7,475.4L386.1,486.4L383.9,493.8L381.4,500.6L379.8,503.8L379.1,504.7L377.4,506.4L375.7,507.6L374.4,508.3L372.6,508.9Z"/>
<path fill="#e6da1e" d="M371.5,507.8L370.3,507.5L369.1,506.9L368,506L366.3,504.3L364.8,501.7L363.7,498L362.8,491.2L362.2,483.5L362,472.1L362.5,463.6L363.6,456.1L365.3,447.8L371.1,431.6L373.1,427.6L375.2,425L378,422.7L379.3,422L380.6,421.8L381.8,422L382.9,422.6L384,423.5L385,424.8L387,428.4L387.7,430.1L388.3,432.7L389,437.2L390.5,451L390.4,458.5L389.9,466L388.8,473.5L387.3,480.3L384.4,491L381.5,499.2L379.2,503.5L377.4,505.4L374.6,507.3L372.7,507.8Z"/>
<path fill="#e6db2b" d="M371.6,506.8L370.4,506.4L369.2,505.8L367,503.8L365.2,501.1L364.1,497.2L363,489.3L362.5,478.7L362.4,470.2L362.8,463.6L363.8,457.1L365.5,448.8L367.8,441.7L371.3,432.2L372.9,429.1L374.4,427.2L375.8,425.7L377.1,424.6L378.5,423.8L380.4,423.4L382.2,423.8L383.3,424.5L384.3,425.6L386.5,429L387.3,431L387.8,432.9L388.5,436.7L390.1,451L390.1,458.5L389.5,466L388.4,473.4L386.5,481.7L383.7,491.9L381,499.2L379.4,502.1L377.3,504.5L376,505.4L374,506.4L372.8,506.7Z"/>
<path fill="#e6dc34" d="M371.7,505.7L370.5,505.3L369.3,504.7L368.2,503.8L366.9,502.2L365.1,498.9L364.2,495.6L363.3,487.6L362.8,476.9L362.8,470.3L363.2,463.7L364.3,456.2L365.9,448.9L371.3,433.6L372.7,430.7L374.2,428.7L375.6,427.2L377,426.1L378.3,425.3L380.2,424.9L382,425.3L383.1,426L384.2,427.1L386.2,430.3L387.1,432.6L387.6,434.2L388.3,438.6L389.7,450.9L389.7,458.5L389.2,466L388.2,472.5L386.8,479L383.8,490.1L381.1,497.6L379.5,500.7L377.1,503.5L375.5,504.7L374.2,505.3L372.9,505.6Z"/>
<path fill="#e6de3e" d="M371.8,504.5L370.6,504.2L369.5,503.5L368.4,502.6L367.3,501.4L365.7,498.6L364.7,495.3L363.8,488.5L363.2,477.2L363.2,470.3L363.6,463.7L364.5,457.2L366.3,448.9L369.2,440.5L371.8,434L373.3,431.2L375.6,428.6L376.8,427.6L378.1,426.8L380.1,426.4L381.3,426.6L382.4,427.1L384.2,428.8L386,431.9L387,434.3L387.4,436L388.4,443L389.3,451.9L389.3,459.4L388.8,465.9L387.8,472.5L386.4,478.9L383.3,490L381.1,496.4L379.7,499.2L378.3,501L376.9,502.5L375.6,503.5L374.3,504.2L373.1,504.5Z"/>
<path fill="#e6df47" d="M372,503.3L370.2,502.7L369.1,501.8L368,500.6L365.9,497L365,494L364.2,487.6L363.6,476.1L363.6,469.5L364,463.8L364.9,457.3L366.7,449L369,442.4L371.5,435.9L373.1,433L375.3,430.3L376.6,429.1L378,428.3L379.9,427.8L381.1,428L382.2,428.6L383.8,430.1L384.9,431.6L385.8,433.6L386.9,436.6L387.8,442.4L388.9,451.8L388.9,459.4L388.4,465.9L387.4,472.4L385.9,478.9L382.9,489.9L380.7,496L379.2,498.6L376.4,501.6L375.1,502.6L373.8,503.2Z"/>
<path fill="#e6e051" d="M372.1,502.1L370.3,501.4L369.2,500.4L368.1,499.1L367.1,497.5L366.2,495.5L365.2,492.2L364.6,486.7L364,475.2L364.1,468.6L364.5,462.9L365.5,456.4L367.2,449.1L369.6,442L371.3,437.9L372.9,434.8L374.4,432.8L375.8,431.3L377.1,430.2L378.4,429.6L380.3,429.4L381.5,429.8L382.6,430.5L384.2,432.4L385.2,434.2L386.1,436.5L386.9,439.9L387.6,444.3L388.5,451.8L388.4,459.3L388,465.9L387.2,471.5L385.7,477.9L382.7,489L380.9,494.1L379.3,497.1L377.9,498.8L376.6,500.2L375.2,501.2L374,501.8Z"/>
<path fill="#e6e15e" d="M372.3,500.7L370.4,499.9L369.4,499L368.3,497.6L367.3,495.9L366.3,493.6L365.6,490.7L364.9,484.9L364.5,474.3L364.5,468.6L364.9,463L365.9,456.5L367.6,449.1L368.5,446.4L371.1,439.7L373.3,435.8L375.6,432.9L377,431.8L378.3,431.1L380.2,430.9L381.3,431.3L382.4,432.1L384,434.1L385.5,437.4L386.7,441.8L387.8,448.9L388,451.8L388,459.3L387.6,465.8L386.8,471.4L385.5,477L382.8,487.1L380.9,492.6L379.5,495.3L378.1,497.2L376.7,498.7L375.4,499.8L374.2,500.4Z"/>
<path fill="#e6e267" d="M372.4,499.3L370.7,498.5L369,496.9L367.5,494.2L366.1,490.1L365.4,485.2L364.9,475.4L364.9,468.7L365.3,463.1L366.4,456.6L368,449.2L368.9,446.5L370.9,441.5L373.2,437.5L375.7,434.3L376.8,433.4L378.1,432.7L379.4,432.4L381.1,432.8L382.3,433.7L383.8,435.8L385.7,440.4L386.5,443.6L387.6,451.7L387.6,459.3L387.2,465.8L386.3,471.4L384.9,477.9L382.3,487.3L380.5,491.9L378.3,495.5L376.2,497.8L374.3,499Z"/>
<path fill="#e6e471" d="M372.6,497.9L370.8,497.1L369.7,496L369,495L367.5,491.9L366.3,488L365.7,483.1L365.3,474.5L365.3,468.8L365.7,463.1L366.6,457.5L368.2,450.2L369,447.4L370.9,443L373,439.3L375.9,435.7L377.9,434.3L379.2,434L380.4,434.2L381.5,434.8L383.1,436.7L385,440.9L386.2,445L387,449.8L387.2,452.6L387.2,460.2L386.8,465.8L385.9,471.4L384.7,476.9L382.4,485.2L380.8,489.8L378.8,493.3L376.7,495.9L375.7,496.8L374.4,497.6Z"/>
<path fill="#e6e57a" d="M372.8,496.4L371,495.6L369.4,493.7L367.9,490.6L366.6,486.1L366,479.9L365.7,473.6L365.7,467.9L366.1,463.2L367,457.6L368.6,450.3L369.5,447.5L371.3,443.4L373.6,440L375.7,437.4L377.7,435.9L379,435.6L379.6,435.6L380.8,436L381.3,436.4L382.9,438.4L384.4,441.4L385.7,445.3L386.6,449.8L386.8,452.6L386.8,460.1L386.4,465.7L385.7,470.4L384.5,475.9L382.8,482.1L380.9,487.9L378.7,491.9L376.6,494.6L374.6,496.1Z"/>
<path fill="#e6e684" d="M372.9,494.9L371.7,494.5L371.2,494.1L369.5,492.1L368.2,489.2L367.2,485.5L366.5,480.6L366.1,473.8L366.1,467.9L366.5,463.2L367.2,458.6L368.1,454L369.3,449.4L370.3,446.6L372.6,442.6L375.5,439.1L377.5,437.6L378.8,437.2L380,437.4L381.2,438.1L382.7,440.1L384.7,444.2L386,448.7L386.4,451.6L386.5,456.3L386.4,461L386,465.7L385.4,470.4L384.1,476.1L382.2,482.6L380.5,487.1L378.7,490.5L376.8,493L374.8,494.6L374.1,494.8Z"/>
<path fill="#e6e68f" d="M373.1,493.4L372.5,493.2L371.3,492.5L369.7,490.3L368.5,487.3L367.5,483.4L366.8,478.4L366.5,473.7L366.5,468L366.8,463.3L367.5,458.6L368.7,453.1L369.7,449.5L370.8,446.8L373.2,443.1L375.3,440.6L377.4,439.1L378.6,438.8L379.9,439L381,439.7L382.6,441.6L384,444.6L385.4,448.7L385.9,451.6L386.1,455.4L386,461L385.7,465.7L385,470.3L383.7,475.9L382.4,480.3L380.6,485L378.8,488.6L377,491.3L375,493L373.7,493.4Z"/>
<path fill="#e6e697" d="M373.3,491.8L372.7,491.6L371.5,490.9L370.4,489.5L369.1,486.4L368.1,482.9L367.3,478.8L366.9,473.8L366.9,468.1L367.2,463.4L368.7,455L369.9,450.5L370.8,448.1L373,444.6L375.2,442.1L377.2,440.7L378.5,440.3L379.7,440.5L380.8,441.2L382.4,443.1L383.8,446.1L385.2,449.9L385.5,452.5L385.7,457.2L385.3,465.6L384.6,470.3L383.3,475.8L381.8,480.7L380.2,484.4L378.5,487.6L376.5,490.3L375.1,491.3L373.9,491.8Z"/>
<path fill="#e6e6a0" d="M373.5,490.1L372.6,489.8L371.7,489.1L370.6,487.6L369.2,484.1L368.1,479.7L367.6,476.6L367.3,471.9L367.3,468.1L367.6,463.4L368.3,458.8L369.4,454.2L370.6,450L371.4,448.2L373.6,445.2L375.7,443L377.7,441.9L378.9,441.9L380.1,442.2L381.7,443.8L383.2,446.4L384.6,450L385,451.9L385.2,456.2L385.2,460.9L384.9,465.6L384.2,470.3L383.4,474L382,478.5L380.9,481.3L378.8,485.3L376.7,488.4L375.3,489.6L374.3,490Z"/>
<path fill="#e6e6a8" d="M373.7,488.3L372.7,487.9L371.9,487.3L370.9,485.7L369.9,483.3L368.6,478.6L367.9,474.2L367.7,471L367.7,467.2L368,463.5L369.4,456.1L370.4,452.4L371.8,448.9L373.4,446.6L375.5,444.5L377.5,443.4L378.8,443.3L379.9,443.7L381.5,445.3L383,447.9L384.1,450.5L384.7,454.3L384.8,458.1L384.5,465.6L384,469.3L383.2,473L382.3,476L380.6,480.1L378.3,484.4L376.9,486.5L375.6,487.7L374.6,488.2Z"/>
<path fill="#e6e6b0" d="M373.9,486.3L372.7,485.8L371.6,484.5L370.2,481.1L369.3,478.2L368.5,474.1L368.2,471.2L368.2,467.3L368.5,463.6L369.1,459.8L369.9,456.1L371,452.5L372.5,449.1L374,447.2L376,445.5L377.3,444.9L378.6,444.9L379.7,445.2L380.8,446.2L382.4,448.3L383.3,450.5L383.9,453.3L384.3,458L384.3,461.8L384,465.5L383.5,469.3L382.6,473L381.7,475.8L380.1,479.5L378.6,482.2L376.5,485.1L375.1,486.1Z"/>
<path fill="#e6e6bc" d="M374.2,484.1L373,483.5L371.9,482.1L370.9,480.1L370,477.3L369.2,473.5L368.9,470.8L368.8,466.5L369,463.6L369.5,460.9L370.4,456.7L371.4,454L373,450L374.3,448.3L375.2,447.5L377.2,446.5L378.4,446.5L379.6,446.9L381.2,448.3L381.8,449.3L382.7,451.3L383.4,455.5L383.7,458.4L383.7,462.7L383.5,465.5L383.1,468.3L382.1,472.5L381.2,475L379.6,478.6L378.1,481L376.7,482.7L375.4,483.8Z"/>
<path fill="#e6e6c4" d="M374.5,481.3L373.3,480.7L372.2,479.4L371.2,477.2L370.6,475.3L370,472.3L369.7,469.4L369.7,466.6L369.9,463.8L370.3,461L371.3,457.3L372.6,453.7L373.9,451.1L374.9,449.6L375.6,449L376.9,448.3L378.2,448.3L379.4,448.7L380.4,449.7L381,450.4L381.6,452.1L382.3,455L382.7,458.8L382.9,462.6L382.7,465.4L382.3,468.2L381.6,471L380.7,473.7L379.4,476.4L378.4,478.2L377,480L375.7,481.1Z"/>
<path fill="#e6e6cc" d="M374.8,478.5L373.6,477.9L373.1,477.3L372.1,475.5L371.6,474L370.8,469.6L370.7,466.7L370.9,463.9L371.3,461.1L372.1,458.4L373.8,454.2L375,452.2L376,451.1L376.7,450.6L378,450.4L379.1,451L379.6,451.6L380.3,453L381,455.2L381.7,459.7L381.8,462.5L381.7,465.3L381.2,468.1L380.5,470.9L378.8,474.9L378,476.3L376.7,477.8L375.4,478.5Z"/>
<path fill="#e6e6d5" d="M375.1,475.6L373.9,474.9L373.4,474.2L372.4,471.8L371.9,467.9L372,464.1L372.7,460.4L374.1,456.8L375.6,454.6L377,453.7L377.6,453.7L378.2,453.9L378.7,454.4L379.2,455.1L380.1,457.7L380.7,461.5L380.6,465.2L379.9,468.9L378.5,472.6L377,474.6L376.4,475.2Z"/>
<path fill="#e6e6dd" d="M375.5,472.1L374.9,471.9L374.4,471.3L373.8,470.1L373.3,467.1L373.3,464.3L373.9,461.6L375.1,458.9L375.9,458L376.5,457.6L377.2,457.5L377.7,457.7L378.3,458.3L378.8,459.4L379.3,462.3L379.2,465.1L378.7,467.9L377.6,470.6L376.8,471.6L376.1,472Z"/>
</g>
<path d="M345.3,554.7L363.3,394.2L363.3,394L363.4,393.9L363.5,393.8L363.7,393.8L363.8,393.8L378.1,396.3L378.3,396.3L378.4,396.2L378.6,396.2L378.7,396.1L378.8,396L378.9,395.8L378.9,395.7L381.3,374L378.9,373.5L376.7,393.5L376.7,393.5L376.7,393.5L376.7,393.5L376.7,393.5L376.6,393.5L376.6,393.5L376.6,393.5L364.1,391.3L363.2,391.3L362.3,391.6L361.6,392.1L361.1,392.9L360.9,393.8L342.9,554.4Z" fill="#5f0303"/>
<path d="M386.4,559.5L403.8,399.3L403.8,399.2L403.7,399L403.6,398.9L403.5,398.8L403.4,398.8L389.6,397.9L389.4,397.8L389.3,397.8L389.2,397.7L389.1,397.5L389,397.4L389,397.2L389,397.1L391.4,375.4L393.7,375.6L391.5,395.5L391.5,395.5L391.5,395.5L391.5,395.6L391.5,395.6L391.5,395.6L391.5,395.6L391.5,395.6L403.6,396.4L404.5,396.6L405.2,397L405.8,397.7L406.1,398.6L406.1,399.5L388.8,559.7Z" fill="#5f0303"/>
<path d="M345.3,554.7L363.3,394.2L363.3,394L363.4,393.9L363.5,393.8L363.7,393.8L363.8,393.8L378.1,396.3L378.3,396.3L378.4,396.2L378.6,396.2L378.7,396.1L378.8,396L378.9,395.8L378.9,395.7L381.3,374 M386.4,559.5L403.8,399.3L403.8,399.2L403.7,399L403.6,398.9L403.5,398.8L403.4,398.8L389.6,397.9L389.4,397.8L389.3,397.8L389.2,397.7L389.1,397.5L389,397.4L389,397.2L389,397.1L391.4,375.4" fill="none" stroke="#3c0000" stroke-width="0.7"/>
<path d="M342.9,554.4L360.9,393.8L361.1,392.9L361.6,392.1L362.3,391.6L363.2,391.3L364.1,391.3L376.6,393.5L376.6,393.5L376.6,393.5L376.7,393.5L376.7,393.5L376.7,393.5L376.7,393.5L376.7,393.5L378.9,373.5 M388.8,559.7L406.1,399.5L406.1,398.6L405.8,397.7L405.2,397L404.5,396.6L403.6,396.4L391.5,395.6L391.5,395.6L391.5,395.6L391.5,395.6L391.5,395.6L391.5,395.5L391.5,395.5L391.5,395.5L393.7,375.6" fill="none" stroke="#560000" stroke-width="0.5"/>
<path d="M365.9,557.4L367.7,540.8L369.6,524.2L371.5,507.7L373.4,491.1L375.2,474.5L377.1,457.9L379,441.3L380.9,424.7L382.7,408.2L384.6,391.6L386.5,375" fill="none" stroke="#2a1a10" stroke-width="0.6"/>
<circle cx="355" cy="429.7" r="2.3" fill="#5a0202" stroke="#300000" stroke-width="1.1"/>
<circle cx="404.3" cy="435.7" r="2.3" fill="#5a0202" stroke="#300000" stroke-width="1.1"/>
<circle cx="353" cy="448.1" r="2.3" fill="#5a0202" stroke="#300000" stroke-width="1.1"/>
<circle cx="402.3" cy="454.1" r="2.3" fill="#5a0202" stroke="#300000" stroke-width="1.1"/>
<circle cx="351" cy="466.4" r="2.3" fill="#5a0202" stroke="#300000" stroke-width="1.1"/>
<circle cx="400.4" cy="472.4" r="2.3" fill="#5a0202" stroke="#300000" stroke-width="1.1"/>
<circle cx="348.9" cy="484.8" r="2.3" fill="#5a0202" stroke="#300000" stroke-width="1.1"/>
<circle cx="398.4" cy="490.7" r="2.3" fill="#5a0202" stroke="#300000" stroke-width="1.1"/>
<circle cx="346.8" cy="503.2" r="2.3" fill="#5a0202" stroke="#300000" stroke-width="1.1"/>
<circle cx="396.4" cy="509" r="2.3" fill="#5a0202" stroke="#300000" stroke-width="1.1"/>
<text x="306" y="324.5" font-size="8.5" text-anchor="start" fill="#111" stroke="#111" stroke-width="0.3" font-family='"DejaVu Sans","Liberation Sans",sans-serif' textLength="158" lengthAdjust="spacingAndGlyphs" style="white-space:pre">Time=0.1 s   Surface: Temperature (K)</text>
<text x="355.8" y="332" font-size="6.5" text-anchor="start" fill="#111" stroke="#111" stroke-width="0.3" font-family='"DejaVu Sans","Liberation Sans",sans-serif' >mm</text>
<text x="322.5" y="353.5" font-size="7.8" text-anchor="middle" fill="#111" stroke="#111" stroke-width="0.3" font-family='"DejaVu Sans","Liberation Sans",sans-serif' >200</text>
<text x="345" y="353.5" font-size="7.8" text-anchor="middle" fill="#111" stroke="#111" stroke-width="0.3" font-family='"DejaVu Sans","Liberation Sans",sans-serif' >100</text>
<text x="368.5" y="353.5" font-size="7.8" text-anchor="middle" fill="#111" stroke="#111" stroke-width="0.3" font-family='"DejaVu Sans","Liberation Sans",sans-serif' >0</text>
<text x="389" y="353.5" font-size="7.8" text-anchor="middle" fill="#111" stroke="#111" stroke-width="0.3" font-family='"DejaVu Sans","Liberation Sans",sans-serif' >-100</text>
<text x="414.5" y="353.5" font-size="7.8" text-anchor="middle" fill="#111" stroke="#111" stroke-width="0.3" font-family='"DejaVu Sans","Liberation Sans",sans-serif' >-200</text>
<text x="452" y="372.5" font-size="7.8" text-anchor="start" fill="#111" stroke="#111" stroke-width="0.3" font-family='"DejaVu Sans","Liberation Sans",sans-serif' >100</text>
<text x="284" y="401" font-size="7.8" text-anchor="start" fill="#111" stroke="#111" stroke-width="0.3" font-family='"DejaVu Sans","Liberation Sans",sans-serif' >600</text>
<text x="278.5" y="449" font-size="7.8" text-anchor="start" fill="#111" stroke="#111" stroke-width="0.3" font-family='"DejaVu Sans","Liberation Sans",sans-serif' >400</text>
<text x="273" y="498" font-size="7.8" text-anchor="start" fill="#111" stroke="#111" stroke-width="0.3" font-family='"DejaVu Sans","Liberation Sans",sans-serif' >200</text>
<text x="261.5" y="450.5" font-size="6.5" text-anchor="start" fill="#111" stroke="#111" stroke-width="0.3" font-family='"DejaVu Sans","Liberation Sans",sans-serif' >mm</text>
<text x="277" y="546.5" font-size="7.8" text-anchor="start" fill="#111" stroke="#111" stroke-width="0.3" font-family='"DejaVu Sans","Liberation Sans",sans-serif' >0</text>
<path d="M280,565 V553" stroke="#4a8ad0" stroke-width="0.7" fill="none"/><path d="M280,565 H270" stroke="#50a060" stroke-width="0.7" fill="none"/><path d="M280,565 l5,1.5" stroke="#d04040" stroke-width="0.7" fill="none"/>
<text x="278" y="552.5" font-size="7.8" text-anchor="start" fill="#111" stroke="#111" stroke-width="0.3" font-family='"DejaVu Sans","Liberation Sans",sans-serif' >z</text>
<text x="262.5" y="566" font-size="7.8" text-anchor="start" fill="#111" stroke="#111" stroke-width="0.3" font-family='"DejaVu Sans","Liberation Sans",sans-serif' >y</text>
<text x="284" y="569.5" font-size="7.8" text-anchor="start" fill="#111" stroke="#111" stroke-width="0.3" font-family='"DejaVu Sans","Liberation Sans",sans-serif' >x</text>
<rect x="471.7" y="356" width="7" height="203" fill="none" stroke="#bbb" stroke-width="0.5"/>
<rect x="472" y="356.4" width="6.4" height="202.2" fill="url(#ghot)"/>
<text x="481.7" y="545.3" font-size="7.8" text-anchor="start" fill="#111" stroke="#111" stroke-width="0.3" font-family='"DejaVu Sans","Liberation Sans",sans-serif' >0.4</text>
<text x="481.7" y="513.5" font-size="7.8" text-anchor="start" fill="#111" stroke="#111" stroke-width="0.3" font-family='"DejaVu Sans","Liberation Sans",sans-serif' >0.6</text>
<text x="481.7" y="481.7" font-size="7.8" text-anchor="start" fill="#111" stroke="#111" stroke-width="0.3" font-family='"DejaVu Sans","Liberation Sans",sans-serif' >0.8</text>
<text x="481.7" y="449.9" font-size="7.8" text-anchor="start" fill="#111" stroke="#111" stroke-width="0.3" font-family='"DejaVu Sans","Liberation Sans",sans-serif' >1</text>
<text x="481.7" y="418.1" font-size="7.8" text-anchor="start" fill="#111" stroke="#111" stroke-width="0.3" font-family='"DejaVu Sans","Liberation Sans",sans-serif' >1.2</text>
<text x="481.7" y="386.3" font-size="7.8" text-anchor="start" fill="#111" stroke="#111" stroke-width="0.3" font-family='"DejaVu Sans","Liberation Sans",sans-serif' >1.4</text>
<path d="M471.2,334.2 l4,6.8 h-8z" fill="#111"/>
<text x="478.8" y="341" font-size="7.8" text-anchor="start" fill="#111" stroke="#111" stroke-width="0.3" font-family='"DejaVu Sans","Liberation Sans",sans-serif' >1.57×10</text>
<text x="512.6" y="336.8" font-size="5.2" text-anchor="start" fill="#111" stroke="#111" stroke-width="0.3" font-family='"DejaVu Sans","Liberation Sans",sans-serif' >3</text>
<text x="478.8" y="351.5" font-size="7.8" text-anchor="start" fill="#111" stroke="#111" stroke-width="0.3" font-family='"DejaVu Sans","Liberation Sans",sans-serif' >×10</text>
<text x="495" y="347.3" font-size="5.2" text-anchor="start" fill="#111" stroke="#111" stroke-width="0.3" font-family='"DejaVu Sans","Liberation Sans",sans-serif' >3</text>
<text x="464" y="354.5" font-size="6.5" text-anchor="start" fill="#111" stroke="#111" stroke-width="0.3" font-family='"DejaVu Sans","Liberation Sans",sans-serif' >mm</text>
<path d="M471.2,571.4 l4,-6.8 h-8z" fill="#111"/>
<text x="478.8" y="571" font-size="7.8" text-anchor="start" fill="#111" stroke="#111" stroke-width="0.3" font-family='"DejaVu Sans","Liberation Sans",sans-serif' >299</text>
<text x="247.5" y="576" font-size="11" text-anchor="start" fill="#111" font-family='"Liberation Serif","DejaVu Serif",serif' font-weight="bold">d)</text>
</svg></body></html>
